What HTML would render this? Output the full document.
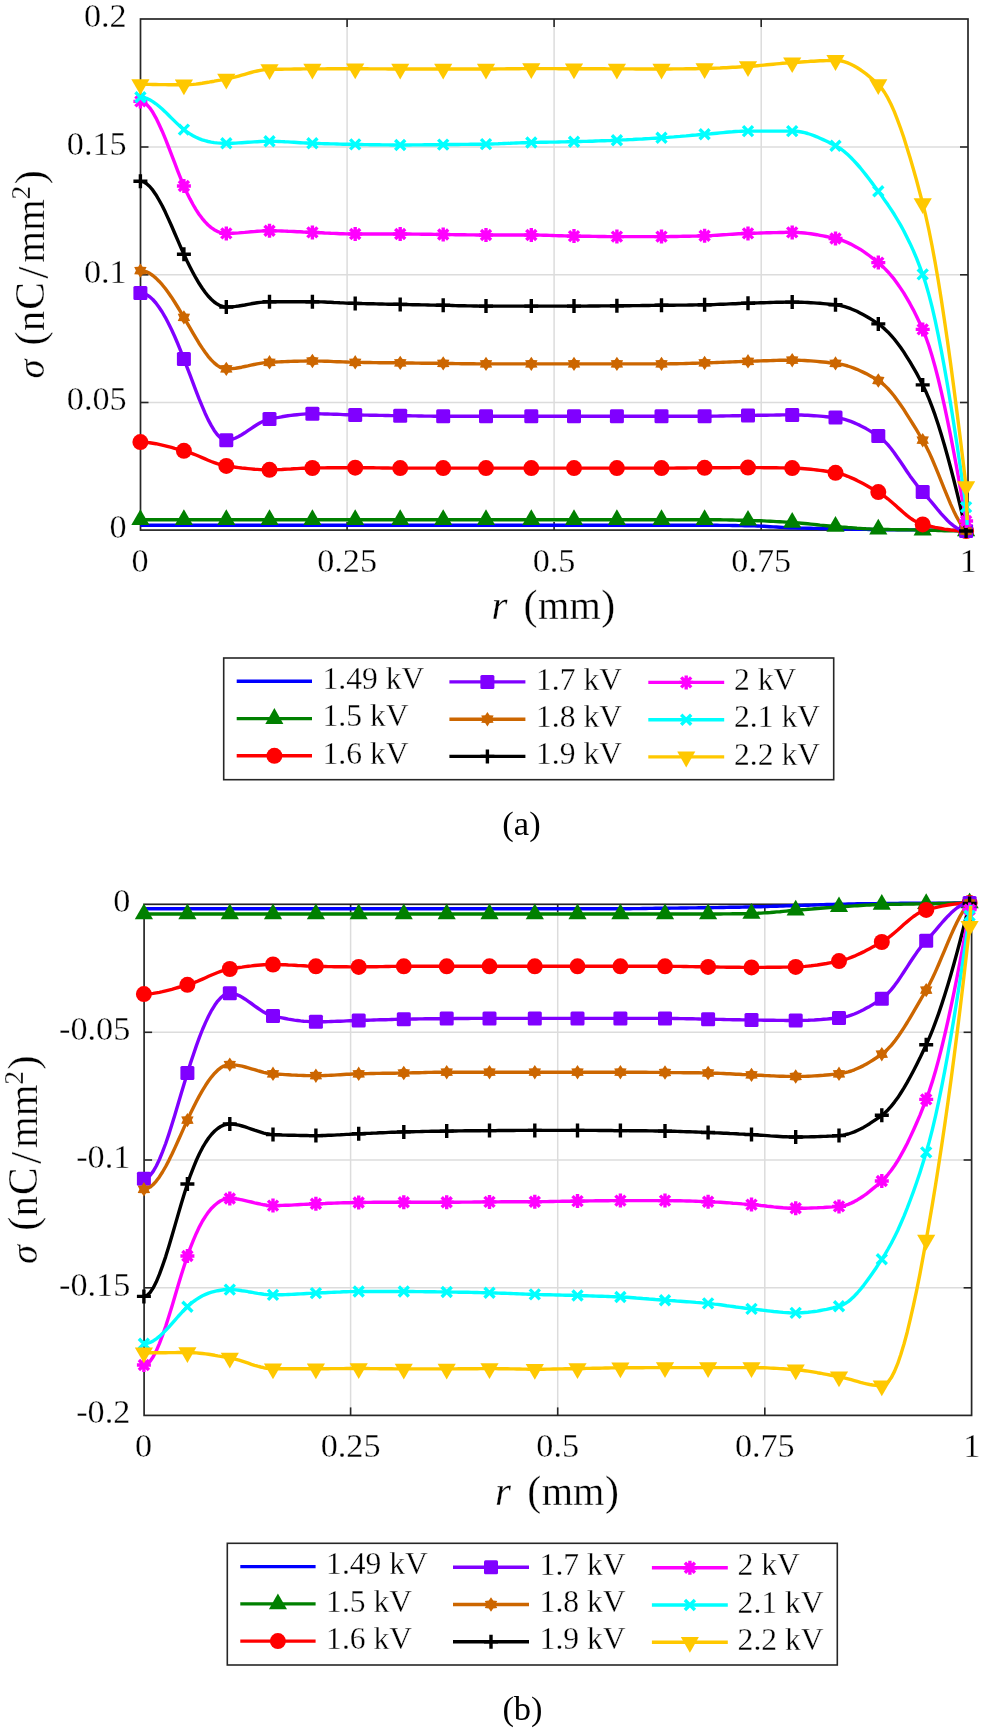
<!DOCTYPE html>
<html><head><meta charset="utf-8"><style>
html,body{margin:0;padding:0;background:#fff;width:984px;height:1732px;overflow:hidden}
svg{display:block;will-change:transform}
text{font-family:"Liberation Serif",serif;fill:#000;stroke:#fff;stroke-width:0.3px;paint-order:fill stroke}
</style></head><body>
<svg width="984" height="1732" viewBox="0 0 984 1732">
<defs><clipPath id="c1"><rect x="128" y="7.2" width="852.2" height="535"/></clipPath><clipPath id="c2"><rect x="131.6" y="892.5" width="852.2" height="535"/></clipPath></defs>
<line x1="347.1" y1="19.2" x2="347.1" y2="530.2" stroke="#dcdcdc" stroke-width="1.5"/>
<line x1="554.1" y1="19.2" x2="554.1" y2="530.2" stroke="#dcdcdc" stroke-width="1.5"/>
<line x1="761.2" y1="19.2" x2="761.2" y2="530.2" stroke="#dcdcdc" stroke-width="1.5"/>
<line x1="140" y1="147" x2="968.2" y2="147" stroke="#dcdcdc" stroke-width="1.5"/>
<line x1="140" y1="274.8" x2="968.2" y2="274.8" stroke="#dcdcdc" stroke-width="1.5"/>
<line x1="140" y1="402.5" x2="968.2" y2="402.5" stroke="#dcdcdc" stroke-width="1.5"/>
<rect x="140.5" y="19" width="827.5" height="511.1" fill="none" stroke="#262626" stroke-width="1.7"/>
<line x1="347.1" y1="19" x2="347.1" y2="27" stroke="#262626" stroke-width="1.6"/>
<line x1="347.1" y1="530.1" x2="347.1" y2="522.1" stroke="#262626" stroke-width="1.6"/>
<line x1="554.1" y1="19" x2="554.1" y2="27" stroke="#262626" stroke-width="1.6"/>
<line x1="554.1" y1="530.1" x2="554.1" y2="522.1" stroke="#262626" stroke-width="1.6"/>
<line x1="761.2" y1="19" x2="761.2" y2="27" stroke="#262626" stroke-width="1.6"/>
<line x1="761.2" y1="530.1" x2="761.2" y2="522.1" stroke="#262626" stroke-width="1.6"/>
<line x1="140.5" y1="147" x2="148.5" y2="147" stroke="#262626" stroke-width="1.6"/>
<line x1="968" y1="147" x2="960" y2="147" stroke="#262626" stroke-width="1.6"/>
<line x1="140.5" y1="274.8" x2="148.5" y2="274.8" stroke="#262626" stroke-width="1.6"/>
<line x1="968" y1="274.8" x2="960" y2="274.8" stroke="#262626" stroke-width="1.6"/>
<line x1="140.5" y1="402.5" x2="148.5" y2="402.5" stroke="#262626" stroke-width="1.6"/>
<line x1="968" y1="402.5" x2="960" y2="402.5" stroke="#262626" stroke-width="1.6"/>
<g clip-path="url(#c1)">
<path d="M140.4 525.3 L143.5 525.3 L146.6 525.3 L149.7 525.3 L152.8 525.3 L155.9 525.3 L159 525.3 L162.2 525.3 L165.3 525.3 L168.4 525.3 L171.5 525.3 L174.6 525.3 L177.7 525.3 L180.8 525.3 L183.9 525.3 L186.9 525.3 L190 525.3 L193 525.3 L196 525.3 L199 525.3 L202.1 525.3 L205.1 525.3 L208.1 525.3 L211.2 525.3 L214.2 525.3 L217.2 525.3 L220.2 525.3 L223.3 525.3 L226.3 525.3 L229.4 525.3 L232.5 525.3 L235.6 525.3 L238.6 525.3 L241.7 525.3 L244.8 525.3 L247.9 525.3 L251 525.3 L254.1 525.3 L257.2 525.3 L260.2 525.3 L263.3 525.3 L266.4 525.3 L269.5 525.3 L272.6 525.3 L275.6 525.3 L278.7 525.3 L281.8 525.3 L284.8 525.3 L287.9 525.3 L290.9 525.3 L294 525.3 L297.1 525.3 L300.1 525.3 L303.2 525.3 L306.3 525.3 L309.3 525.3 L312.4 525.3 L315.5 525.3 L318.5 525.3 L321.6 525.3 L324.6 525.3 L327.7 525.3 L330.7 525.3 L333.8 525.3 L336.9 525.3 L339.9 525.3 L343 525.3 L346 525.3 L349.1 525.3 L352.1 525.3 L355.2 525.3 L358.2 525.3 L361.2 525.3 L364.2 525.3 L367.2 525.3 L370.2 525.3 L373.2 525.3 L376.2 525.3 L379.2 525.3 L382.2 525.3 L385.2 525.3 L388.2 525.3 L391.2 525.3 L394.2 525.3 L397.2 525.3 L400.2 525.3 L403.3 525.3 L406.4 525.3 L409.5 525.3 L412.5 525.3 L415.6 525.3 L418.7 525.3 L421.7 525.3 L424.8 525.3 L427.9 525.3 L430.9 525.3 L434 525.3 L437.1 525.3 L440.1 525.3 L443.2 525.3 L446.3 525.3 L449.3 525.3 L452.4 525.3 L455.4 525.3 L458.5 525.3 L461.5 525.3 L464.6 525.3 L467.7 525.3 L470.7 525.3 L473.8 525.3 L476.8 525.3 L479.9 525.3 L482.9 525.3 L486 525.3 L489 525.3 L492 525.3 L495.1 525.3 L498.1 525.3 L501.1 525.3 L504.1 525.3 L507.1 525.3 L510.2 525.3 L513.2 525.3 L516.2 525.3 L519.2 525.3 L522.2 525.3 L525.3 525.3 L528.3 525.3 L531.3 525.3 L534.3 525.3 L537.4 525.3 L540.4 525.3 L543.5 525.3 L546.5 525.3 L549.6 525.3 L552.6 525.3 L555.7 525.3 L558.8 525.3 L561.8 525.3 L564.9 525.3 L567.9 525.3 L571 525.3 L574 525.3 L577.1 525.3 L580.1 525.3 L583.2 525.3 L586.3 525.3 L589.3 525.3 L592.4 525.3 L595.5 525.3 L598.5 525.3 L601.6 525.3 L604.6 525.3 L607.7 525.3 L610.8 525.3 L613.8 525.3 L616.9 525.3 L620.1 525.3 L623.3 525.3 L626.5 525.3 L629.6 525.3 L632.8 525.3 L636 525.3 L639.2 525.3 L642.4 525.3 L645.6 525.3 L648.8 525.3 L651.9 525.3 L655.1 525.3 L658.3 525.3 L661.5 525.3 L664.6 525.3 L667.7 525.3 L670.7 525.3 L673.8 525.3 L676.9 525.3 L680 525.3 L683 525.3 L686.1 525.3 L689.2 525.3 L692.3 525.3 L695.4 525.3 L698.4 525.3 L701.5 525.3 L704.6 525.3 L707.7 525.3 L710.8 525.3 L713.9 525.3 L717 525.3 L720.1 525.4 L723.2 525.4 L726.3 525.4 L729.4 525.4 L732.5 525.5 L735.6 525.5 L738.7 525.6 L741.8 525.6 L744.9 525.7 L748 525.7 L751.2 525.8 L754.3 525.9 L757.5 526 L760.6 526.1 L763.8 526.3 L766.9 526.5 L770.1 526.7 L773.3 526.9 L776.4 527 L779.6 527.2 L782.7 527.4 L785.9 527.6 L789 527.7 L792.2 527.8 L795.3 527.9 L798.4 528 L801.5 528.1 L804.6 528.1 L807.7 528.2 L810.8 528.3 L813.9 528.4 L816.9 528.4 L820 528.5 L823.1 528.5 L826.2 528.6 L829.3 528.7 L832.4 528.7 L835.5 528.8 L838.6 528.9 L841.6 528.9 L844.7 529 L847.7 529.1 L850.8 529.1 L853.8 529.2 L856.9 529.2 L860 529.3 L863 529.4 L866.1 529.4 L869.1 529.5 L872.2 529.5 L875.2 529.6 L878.3 529.6 L881.5 529.6 L884.6 529.7 L887.8 529.7 L891 529.7 L894.2 529.8 L897.3 529.8 L900.5 529.8 L903.7 529.8 L906.8 529.9 L910 529.9 L913.2 529.9 L916.4 529.9 L919.5 530 L922.7 530 L925.8 530 L928.9 530.1 L932 530.1 L935.1 530.2 L938.2 530.2 L941.3 530.3 L944.4 530.3 L947.5 530.3 L950.6 530.4 L953.7 530.4 L956.8 530.5 L959.9 530.5 L963 530.5 L966.1 530.5" stroke="#0000ff" stroke-width="3.4" fill="none" stroke-linejoin="round"/>




















<path d="M140.4 519.7 L143.5 519.7 L146.6 519.7 L149.7 519.7 L152.8 519.7 L155.9 519.7 L159 519.7 L162.2 519.7 L165.3 519.7 L168.4 519.7 L171.5 519.7 L174.6 519.7 L177.7 519.7 L180.8 519.7 L183.9 519.7 L186.9 519.7 L190 519.7 L193 519.7 L196 519.7 L199 519.7 L202.1 519.7 L205.1 519.7 L208.1 519.7 L211.2 519.7 L214.2 519.7 L217.2 519.7 L220.2 519.7 L223.3 519.7 L226.3 519.7 L229.4 519.7 L232.5 519.7 L235.6 519.7 L238.6 519.7 L241.7 519.7 L244.8 519.7 L247.9 519.7 L251 519.7 L254.1 519.7 L257.2 519.7 L260.2 519.7 L263.3 519.7 L266.4 519.7 L269.5 519.7 L272.6 519.7 L275.6 519.7 L278.7 519.7 L281.8 519.7 L284.8 519.7 L287.9 519.7 L290.9 519.7 L294 519.7 L297.1 519.7 L300.1 519.7 L303.2 519.7 L306.3 519.7 L309.3 519.7 L312.4 519.7 L315.5 519.7 L318.5 519.7 L321.6 519.7 L324.6 519.7 L327.7 519.7 L330.7 519.7 L333.8 519.7 L336.9 519.7 L339.9 519.7 L343 519.7 L346 519.7 L349.1 519.7 L352.1 519.7 L355.2 519.7 L358.2 519.7 L361.2 519.7 L364.2 519.7 L367.2 519.7 L370.2 519.7 L373.2 519.7 L376.2 519.7 L379.2 519.7 L382.2 519.7 L385.2 519.7 L388.2 519.7 L391.2 519.7 L394.2 519.7 L397.2 519.7 L400.2 519.7 L403.3 519.7 L406.4 519.7 L409.5 519.7 L412.5 519.7 L415.6 519.7 L418.7 519.7 L421.7 519.7 L424.8 519.7 L427.9 519.7 L430.9 519.7 L434 519.7 L437.1 519.7 L440.1 519.7 L443.2 519.7 L446.3 519.7 L449.3 519.7 L452.4 519.7 L455.4 519.7 L458.5 519.7 L461.5 519.7 L464.6 519.7 L467.7 519.7 L470.7 519.7 L473.8 519.7 L476.8 519.7 L479.9 519.7 L482.9 519.7 L486 519.7 L489 519.7 L492 519.7 L495.1 519.7 L498.1 519.7 L501.1 519.7 L504.1 519.7 L507.1 519.7 L510.2 519.7 L513.2 519.7 L516.2 519.7 L519.2 519.7 L522.2 519.7 L525.3 519.7 L528.3 519.7 L531.3 519.7 L534.3 519.7 L537.4 519.7 L540.4 519.7 L543.5 519.7 L546.5 519.7 L549.6 519.7 L552.6 519.7 L555.7 519.7 L558.8 519.7 L561.8 519.7 L564.9 519.7 L567.9 519.7 L571 519.7 L574 519.7 L577.1 519.7 L580.1 519.7 L583.2 519.7 L586.3 519.7 L589.3 519.7 L592.4 519.7 L595.5 519.7 L598.5 519.7 L601.6 519.7 L604.6 519.7 L607.7 519.7 L610.8 519.7 L613.8 519.7 L616.9 519.7 L620.1 519.7 L623.3 519.7 L626.5 519.7 L629.6 519.7 L632.8 519.7 L636 519.7 L639.2 519.7 L642.4 519.7 L645.6 519.7 L648.8 519.7 L651.9 519.7 L655.1 519.7 L658.3 519.7 L661.5 519.7 L664.6 519.7 L667.7 519.7 L670.7 519.7 L673.8 519.7 L676.9 519.7 L680 519.7 L683 519.7 L686.1 519.7 L689.2 519.7 L692.3 519.7 L695.4 519.7 L698.4 519.7 L701.5 519.7 L704.6 519.7 L707.7 519.7 L710.8 519.7 L713.9 519.7 L717 519.8 L720.1 519.8 L723.2 519.9 L726.3 519.9 L729.4 520 L732.5 520 L735.6 520.1 L738.7 520.2 L741.8 520.3 L744.9 520.3 L748 520.4 L751.2 520.5 L754.3 520.6 L757.5 520.7 L760.6 520.8 L763.8 520.9 L766.9 521.1 L770.1 521.2 L773.3 521.4 L776.4 521.6 L779.6 521.7 L782.7 521.9 L785.9 522.1 L789 522.3 L792.2 522.5 L795.3 522.7 L798.4 522.9 L801.5 523.2 L804.6 523.5 L807.7 523.8 L810.8 524.1 L813.9 524.4 L816.9 524.7 L820 525.1 L823.1 525.4 L826.2 525.7 L829.3 526 L832.4 526.3 L835.5 526.5 L838.6 526.7 L841.6 527 L844.7 527.2 L847.7 527.5 L850.8 527.7 L853.8 527.9 L856.9 528.2 L860 528.4 L863 528.6 L866.1 528.8 L869.1 528.9 L872.2 529.1 L875.2 529.2 L878.3 529.3 L881.5 529.4 L884.6 529.5 L887.8 529.5 L891 529.6 L894.2 529.6 L897.3 529.7 L900.5 529.8 L903.7 529.8 L906.8 529.8 L910 529.9 L913.2 529.9 L916.4 530 L919.5 530 L922.7 530.1 L925.8 530.2 L928.9 530.2 L932 530.3 L935.1 530.4 L938.2 530.5 L941.3 530.6 L944.4 530.7 L947.5 530.7 L950.6 530.8 L953.7 530.9 L956.8 530.9 L959.9 531 L963 531 L966.1 531" stroke="#008000" stroke-width="3.4" fill="none" stroke-linejoin="round"/>
<polygon points="140.4,509.2 149.5,525 131.3,525" fill="#008000"/>
<polygon points="183.9,509.2 193,525 174.8,525" fill="#008000"/>
<polygon points="226.3,509.2 235.4,525 217.2,525" fill="#008000"/>
<polygon points="269.5,509.2 278.6,525 260.4,525" fill="#008000"/>
<polygon points="312.4,509.2 321.5,525 303.3,525" fill="#008000"/>
<polygon points="355.2,509.2 364.3,525 346.1,525" fill="#008000"/>
<polygon points="400.2,509.2 409.3,525 391.2,525" fill="#008000"/>
<polygon points="443.2,509.2 452.3,525 434.1,525" fill="#008000"/>
<polygon points="486,509.2 495.1,525 476.9,525" fill="#008000"/>
<polygon points="531.3,509.2 540.4,525 522.2,525" fill="#008000"/>
<polygon points="574,509.2 583.1,525 564.9,525" fill="#008000"/>
<polygon points="616.9,509.2 626,525 607.8,525" fill="#008000"/>
<polygon points="661.5,509.2 670.6,525 652.4,525" fill="#008000"/>
<polygon points="704.6,509.2 713.7,525 695.5,525" fill="#008000"/>
<polygon points="748,509.9 757.1,525.6 738.9,525.6" fill="#008000"/>
<polygon points="792.2,512 801.3,527.8 783.1,527.8" fill="#008000"/>
<polygon points="835.5,516 844.6,531.8 826.4,531.8" fill="#008000"/>
<polygon points="878.3,518.8 887.4,534.5 869.2,534.5" fill="#008000"/>
<polygon points="922.7,519.6 931.8,535.4 913.6,535.4" fill="#008000"/>
<polygon points="966.1,520.5 975.2,536.2 957,536.2" fill="#008000"/>
<path d="M140.4 442.1 L143.5 442.2 L146.6 442.4 L149.7 442.7 L152.8 443.2 L155.9 443.7 L159 444.4 L162.2 445.1 L165.3 445.8 L168.4 446.6 L171.5 447.4 L174.6 448.3 L177.7 449.1 L180.8 450 L183.9 450.8 L186.9 451.7 L190 452.7 L193 453.8 L196 455 L199 456.3 L202.1 457.6 L205.1 458.9 L208.1 460.2 L211.2 461.5 L214.2 462.6 L217.2 463.7 L220.2 464.6 L223.3 465.4 L226.3 465.9 L229.4 466.3 L232.5 466.8 L235.6 467.2 L238.6 467.6 L241.7 468 L244.8 468.3 L247.9 468.6 L251 468.9 L254.1 469.2 L257.2 469.4 L260.2 469.6 L263.3 469.7 L266.4 469.8 L269.5 469.8 L272.6 469.8 L275.6 469.7 L278.7 469.6 L281.8 469.5 L284.8 469.3 L287.9 469.1 L290.9 469 L294 468.8 L297.1 468.6 L300.1 468.4 L303.2 468.3 L306.3 468.2 L309.3 468.1 L312.4 468 L315.5 468 L318.5 467.9 L321.6 467.9 L324.6 467.9 L327.7 467.8 L330.7 467.8 L333.8 467.8 L336.9 467.8 L339.9 467.7 L343 467.7 L346 467.7 L349.1 467.7 L352.1 467.7 L355.2 467.7 L358.2 467.7 L361.2 467.7 L364.2 467.7 L367.2 467.8 L370.2 467.8 L373.2 467.8 L376.2 467.9 L379.2 467.9 L382.2 468 L385.2 468 L388.2 468 L391.2 468.1 L394.2 468.1 L397.2 468.1 L400.2 468.1 L403.3 468.1 L406.4 468.1 L409.5 468.1 L412.5 468.1 L415.6 468.1 L418.7 468.1 L421.7 468.1 L424.8 468.1 L427.9 468.1 L430.9 468.1 L434 468.1 L437.1 468.1 L440.1 468.1 L443.2 468.1 L446.3 468.1 L449.3 468.1 L452.4 468.1 L455.4 468.1 L458.5 468.1 L461.5 468.1 L464.6 468.1 L467.7 468.1 L470.7 468.1 L473.8 468.1 L476.8 468.1 L479.9 468.1 L482.9 468.1 L486 468.1 L489 468.1 L492 468.1 L495.1 468.1 L498.1 468.1 L501.1 468.1 L504.1 468.1 L507.1 468.1 L510.2 468.1 L513.2 468.1 L516.2 468.1 L519.2 468.1 L522.2 468.1 L525.3 468.1 L528.3 468.1 L531.3 468.1 L534.3 468.1 L537.4 468.1 L540.4 468.1 L543.5 468.1 L546.5 468.1 L549.6 468.1 L552.6 468.1 L555.7 468.1 L558.8 468.1 L561.8 468.1 L564.9 468.1 L567.9 468.1 L571 468.1 L574 468.1 L577.1 468.1 L580.1 468.1 L583.2 468.1 L586.3 468.1 L589.3 468.1 L592.4 468.1 L595.5 468.1 L598.5 468.1 L601.6 468.1 L604.6 468.1 L607.7 468.1 L610.8 468.1 L613.8 468.1 L616.9 468.1 L620.1 468.1 L623.3 468.1 L626.5 468.1 L629.6 468.1 L632.8 468.1 L636 468.1 L639.2 468.1 L642.4 468.1 L645.6 468.1 L648.8 468.1 L651.9 468.1 L655.1 468.1 L658.3 468.1 L661.5 468.1 L664.6 468.1 L667.7 468.1 L670.7 468.1 L673.8 468.1 L676.9 468 L680 468 L683 468 L686.1 468 L689.2 467.9 L692.3 467.9 L695.4 467.9 L698.4 467.8 L701.5 467.8 L704.6 467.8 L707.7 467.8 L710.8 467.8 L713.9 467.7 L717 467.7 L720.1 467.7 L723.2 467.7 L726.3 467.7 L729.4 467.7 L732.5 467.6 L735.6 467.6 L738.7 467.6 L741.8 467.6 L744.9 467.6 L748 467.6 L751.2 467.6 L754.3 467.6 L757.5 467.6 L760.6 467.6 L763.8 467.7 L766.9 467.7 L770.1 467.7 L773.3 467.8 L776.4 467.8 L779.6 467.9 L782.7 467.9 L785.9 468 L789 468 L792.2 468.1 L795.3 468.2 L798.4 468.3 L801.5 468.5 L804.6 468.7 L807.7 469 L810.8 469.3 L813.9 469.6 L816.9 470 L820 470.4 L823.1 470.8 L826.2 471.3 L829.3 471.8 L832.4 472.3 L835.5 472.8 L838.6 473.4 L841.6 474.2 L844.7 475.2 L847.7 476.3 L850.8 477.6 L853.8 478.9 L856.9 480.4 L860 482 L863 483.6 L866.1 485.2 L869.1 486.9 L872.2 488.7 L875.2 490.4 L878.3 492.1 L881.5 494 L884.6 496.3 L887.8 498.8 L891 501.5 L894.2 504.2 L897.3 507.1 L900.5 509.9 L903.7 512.7 L906.8 515.4 L910 517.8 L913.2 520 L916.4 521.9 L919.5 523.4 L922.7 524.4 L925.8 525.2 L928.9 525.9 L932 526.6 L935.1 527.3 L938.2 527.9 L941.3 528.5 L944.4 529.1 L947.5 529.5 L950.6 530 L953.7 530.3 L956.8 530.6 L959.9 530.8 L963 531 L966.1 531" stroke="#ff0000" stroke-width="3.4" fill="none" stroke-linejoin="round"/>
<circle cx="140.4" cy="442.1" r="8" fill="#ff0000"/>
<circle cx="183.9" cy="450.8" r="8" fill="#ff0000"/>
<circle cx="226.3" cy="465.9" r="8" fill="#ff0000"/>
<circle cx="269.5" cy="469.8" r="8" fill="#ff0000"/>
<circle cx="312.4" cy="468" r="8" fill="#ff0000"/>
<circle cx="355.2" cy="467.7" r="8" fill="#ff0000"/>
<circle cx="400.2" cy="468.1" r="8" fill="#ff0000"/>
<circle cx="443.2" cy="468.1" r="8" fill="#ff0000"/>
<circle cx="486" cy="468.1" r="8" fill="#ff0000"/>
<circle cx="531.3" cy="468.1" r="8" fill="#ff0000"/>
<circle cx="574" cy="468.1" r="8" fill="#ff0000"/>
<circle cx="616.9" cy="468.1" r="8" fill="#ff0000"/>
<circle cx="661.5" cy="468.1" r="8" fill="#ff0000"/>
<circle cx="704.6" cy="467.8" r="8" fill="#ff0000"/>
<circle cx="748" cy="467.6" r="8" fill="#ff0000"/>
<circle cx="792.2" cy="468.1" r="8" fill="#ff0000"/>
<circle cx="835.5" cy="472.8" r="8" fill="#ff0000"/>
<circle cx="878.3" cy="492.1" r="8" fill="#ff0000"/>
<circle cx="922.7" cy="524.4" r="8" fill="#ff0000"/>
<circle cx="966.1" cy="531" r="8" fill="#ff0000"/>
<path d="M140.4 293 L143.5 293.4 L146.6 294.7 L149.7 296.7 L152.8 299.5 L155.9 303 L159 307.2 L162.2 312 L165.3 317.3 L168.4 323.2 L171.5 329.5 L174.6 336.3 L177.7 343.5 L180.8 351.1 L183.9 358.9 L186.9 366.8 L190 374.8 L193 382.9 L196 390.9 L199 398.7 L202.1 406.2 L205.1 413.2 L208.1 419.6 L211.2 425.4 L214.2 430.4 L217.2 434.5 L220.2 437.6 L223.3 439.5 L226.3 440.2 L229.4 439.9 L232.5 439.2 L235.6 438 L238.6 436.5 L241.7 434.7 L244.8 432.8 L247.9 430.7 L251 428.6 L254.1 426.5 L257.2 424.5 L260.2 422.7 L263.3 421.2 L266.4 419.9 L269.5 419.1 L272.6 418.5 L275.6 417.9 L278.7 417.4 L281.8 416.8 L284.8 416.3 L287.9 415.8 L290.9 415.4 L294 415 L297.1 414.7 L300.1 414.4 L303.2 414.1 L306.3 413.9 L309.3 413.8 L312.4 413.8 L315.5 413.8 L318.5 413.8 L321.6 413.9 L324.6 414 L327.7 414 L330.7 414.1 L333.8 414.2 L336.9 414.3 L339.9 414.4 L343 414.6 L346 414.7 L349.1 414.7 L352.1 414.8 L355.2 414.9 L358.2 415 L361.2 415 L364.2 415.1 L367.2 415.1 L370.2 415.2 L373.2 415.3 L376.2 415.3 L379.2 415.4 L382.2 415.4 L385.2 415.5 L388.2 415.5 L391.2 415.6 L394.2 415.6 L397.2 415.7 L400.2 415.7 L403.3 415.7 L406.4 415.8 L409.5 415.8 L412.5 415.9 L415.6 415.9 L418.7 416 L421.7 416 L424.8 416.1 L427.9 416.1 L430.9 416.1 L434 416.2 L437.1 416.2 L440.1 416.2 L443.2 416.2 L446.3 416.2 L449.3 416.2 L452.4 416.2 L455.4 416.2 L458.5 416.2 L461.5 416.2 L464.6 416.2 L467.7 416.2 L470.7 416.2 L473.8 416.2 L476.8 416.2 L479.9 416.2 L482.9 416.2 L486 416.2 L489 416.2 L492 416.2 L495.1 416.2 L498.1 416.2 L501.1 416.2 L504.1 416.2 L507.1 416.2 L510.2 416.2 L513.2 416.2 L516.2 416.2 L519.2 416.2 L522.2 416.2 L525.3 416.2 L528.3 416.2 L531.3 416.2 L534.3 416.2 L537.4 416.2 L540.4 416.2 L543.5 416.2 L546.5 416.2 L549.6 416.2 L552.6 416.2 L555.7 416.2 L558.8 416.2 L561.8 416.2 L564.9 416.2 L567.9 416.2 L571 416.2 L574 416.2 L577.1 416.2 L580.1 416.2 L583.2 416.2 L586.3 416.2 L589.3 416.2 L592.4 416.2 L595.5 416.2 L598.5 416.2 L601.6 416.2 L604.6 416.2 L607.7 416.2 L610.8 416.2 L613.8 416.2 L616.9 416.2 L620.1 416.2 L623.3 416.2 L626.5 416.2 L629.6 416.2 L632.8 416.2 L636 416.2 L639.2 416.2 L642.4 416.2 L645.6 416.2 L648.8 416.2 L651.9 416.2 L655.1 416.2 L658.3 416.2 L661.5 416.2 L664.6 416.2 L667.7 416.2 L670.7 416.2 L673.8 416.2 L676.9 416.2 L680 416.2 L683 416.2 L686.1 416.2 L689.2 416.2 L692.3 416.2 L695.4 416.2 L698.4 416.2 L701.5 416.2 L704.6 416.2 L707.7 416.2 L710.8 416.2 L713.9 416.1 L717 416.1 L720.1 416 L723.2 416 L726.3 415.9 L729.4 415.9 L732.5 415.8 L735.6 415.7 L738.7 415.7 L741.8 415.6 L744.9 415.5 L748 415.5 L751.2 415.5 L754.3 415.4 L757.5 415.3 L760.6 415.3 L763.8 415.2 L766.9 415.2 L770.1 415.1 L773.3 415.1 L776.4 415 L779.6 415 L782.7 414.9 L785.9 414.9 L789 414.9 L792.2 414.9 L795.3 414.9 L798.4 415 L801.5 415 L804.6 415.2 L807.7 415.3 L810.8 415.5 L813.9 415.7 L816.9 415.9 L820 416.1 L823.1 416.4 L826.2 416.7 L829.3 417 L832.4 417.3 L835.5 417.6 L838.6 418 L841.6 418.6 L844.7 419.4 L847.7 420.3 L850.8 421.4 L853.8 422.6 L856.9 424 L860 425.4 L863 427 L866.1 428.6 L869.1 430.4 L872.2 432.2 L875.2 434.1 L878.3 436 L881.5 438.3 L884.6 441.3 L887.8 444.7 L891 448.5 L894.2 452.7 L897.3 457.2 L900.5 461.8 L903.7 466.5 L906.8 471.2 L910 475.9 L913.2 480.3 L916.4 484.6 L919.5 488.6 L922.7 492.1 L925.8 495.5 L928.9 499 L932 502.7 L935.1 506.4 L938.2 510.2 L941.3 513.8 L944.4 517.2 L947.5 520.5 L950.6 523.4 L953.7 525.9 L956.8 528 L959.9 529.6 L963 530.6 L966.1 531" stroke="#8000ff" stroke-width="3.4" fill="none" stroke-linejoin="round"/>
<rect x="133.4" y="286" width="14" height="14" rx="1.5" fill="#8000ff"/>
<rect x="176.9" y="351.9" width="14" height="14" rx="1.5" fill="#8000ff"/>
<rect x="219.3" y="433.2" width="14" height="14" rx="1.5" fill="#8000ff"/>
<rect x="262.5" y="412.1" width="14" height="14" rx="1.5" fill="#8000ff"/>
<rect x="305.4" y="406.8" width="14" height="14" rx="1.5" fill="#8000ff"/>
<rect x="348.2" y="407.9" width="14" height="14" rx="1.5" fill="#8000ff"/>
<rect x="393.2" y="408.7" width="14" height="14" rx="1.5" fill="#8000ff"/>
<rect x="436.2" y="409.2" width="14" height="14" rx="1.5" fill="#8000ff"/>
<rect x="479" y="409.2" width="14" height="14" rx="1.5" fill="#8000ff"/>
<rect x="524.3" y="409.2" width="14" height="14" rx="1.5" fill="#8000ff"/>
<rect x="567" y="409.2" width="14" height="14" rx="1.5" fill="#8000ff"/>
<rect x="609.9" y="409.2" width="14" height="14" rx="1.5" fill="#8000ff"/>
<rect x="654.5" y="409.2" width="14" height="14" rx="1.5" fill="#8000ff"/>
<rect x="697.6" y="409.2" width="14" height="14" rx="1.5" fill="#8000ff"/>
<rect x="741" y="408.5" width="14" height="14" rx="1.5" fill="#8000ff"/>
<rect x="785.2" y="407.9" width="14" height="14" rx="1.5" fill="#8000ff"/>
<rect x="828.5" y="410.6" width="14" height="14" rx="1.5" fill="#8000ff"/>
<rect x="871.3" y="429" width="14" height="14" rx="1.5" fill="#8000ff"/>
<rect x="915.7" y="485.1" width="14" height="14" rx="1.5" fill="#8000ff"/>
<rect x="959.1" y="524" width="14" height="14" rx="1.5" fill="#8000ff"/>
<path d="M140.4 270.6 L143.5 270.9 L146.6 271.9 L149.7 273.4 L152.8 275.5 L155.9 278.1 L159 281.2 L162.2 284.7 L165.3 288.5 L168.4 292.7 L171.5 297.2 L174.6 302 L177.7 307 L180.8 312.1 L183.9 317.4 L186.9 322.6 L190 327.9 L193 333.1 L196 338.2 L199 343.2 L202.1 347.9 L205.1 352.2 L208.1 356.3 L211.2 359.9 L214.2 362.9 L217.2 365.4 L220.2 367.3 L223.3 368.5 L226.3 368.9 L229.4 368.8 L232.5 368.6 L235.6 368.2 L238.6 367.7 L241.7 367.2 L244.8 366.5 L247.9 365.9 L251 365.2 L254.1 364.5 L257.2 363.9 L260.2 363.4 L263.3 362.9 L266.4 362.5 L269.5 362.3 L272.6 362.1 L275.6 362 L278.7 361.9 L281.8 361.7 L284.8 361.6 L287.9 361.5 L290.9 361.4 L294 361.3 L297.1 361.2 L300.1 361.1 L303.2 361.1 L306.3 361 L309.3 361 L312.4 361 L315.5 361 L318.5 361.1 L321.6 361.1 L324.6 361.2 L327.7 361.3 L330.7 361.4 L333.8 361.6 L336.9 361.7 L339.9 361.8 L343 361.9 L346 362 L349.1 362.1 L352.1 362.2 L355.2 362.3 L358.2 362.4 L361.2 362.4 L364.2 362.5 L367.2 362.5 L370.2 362.5 L373.2 362.6 L376.2 362.6 L379.2 362.7 L382.2 362.7 L385.2 362.7 L388.2 362.8 L391.2 362.8 L394.2 362.8 L397.2 362.9 L400.2 362.9 L403.3 362.9 L406.4 363 L409.5 363 L412.5 363 L415.6 363.1 L418.7 363.1 L421.7 363.2 L424.8 363.2 L427.9 363.2 L430.9 363.3 L434 363.3 L437.1 363.3 L440.1 363.4 L443.2 363.4 L446.3 363.4 L449.3 363.5 L452.4 363.5 L455.4 363.6 L458.5 363.6 L461.5 363.7 L464.6 363.7 L467.7 363.8 L470.7 363.8 L473.8 363.8 L476.8 363.9 L479.9 363.9 L482.9 363.9 L486 363.9 L489 363.9 L492 363.9 L495.1 363.9 L498.1 363.9 L501.1 363.9 L504.1 363.9 L507.1 363.9 L510.2 363.9 L513.2 363.9 L516.2 363.9 L519.2 363.9 L522.2 363.9 L525.3 363.9 L528.3 363.9 L531.3 363.9 L534.3 363.9 L537.4 363.9 L540.4 363.9 L543.5 363.9 L546.5 363.9 L549.6 363.9 L552.6 363.9 L555.7 363.9 L558.8 363.9 L561.8 363.9 L564.9 363.9 L567.9 363.9 L571 363.9 L574 363.9 L577.1 363.9 L580.1 363.9 L583.2 363.9 L586.3 363.9 L589.3 363.9 L592.4 363.9 L595.5 363.9 L598.5 363.9 L601.6 363.9 L604.6 363.9 L607.7 363.9 L610.8 363.9 L613.8 363.9 L616.9 363.9 L620.1 363.9 L623.3 363.9 L626.5 363.9 L629.6 363.9 L632.8 363.9 L636 363.9 L639.2 363.9 L642.4 363.9 L645.6 363.9 L648.8 363.9 L651.9 363.9 L655.1 363.9 L658.3 363.9 L661.5 363.9 L664.6 363.9 L667.7 363.9 L670.7 363.8 L673.8 363.8 L676.9 363.7 L680 363.6 L683 363.6 L686.1 363.5 L689.2 363.4 L692.3 363.3 L695.4 363.2 L698.4 363.1 L701.5 363 L704.6 362.9 L707.7 362.8 L710.8 362.7 L713.9 362.6 L717 362.5 L720.1 362.4 L723.2 362.2 L726.3 362.1 L729.4 362 L732.5 361.9 L735.6 361.7 L738.7 361.6 L741.8 361.5 L744.9 361.4 L748 361.3 L751.2 361.2 L754.3 361.1 L757.5 361 L760.6 360.9 L763.8 360.8 L766.9 360.7 L770.1 360.6 L773.3 360.5 L776.4 360.4 L779.6 360.3 L782.7 360.3 L785.9 360.2 L789 360.2 L792.2 360.2 L795.3 360.2 L798.4 360.3 L801.5 360.4 L804.6 360.5 L807.7 360.7 L810.8 360.9 L813.9 361.1 L816.9 361.4 L820 361.7 L823.1 362 L826.2 362.3 L829.3 362.7 L832.4 363 L835.5 363.4 L838.6 363.9 L841.6 364.4 L844.7 365.2 L847.7 366 L850.8 367 L853.8 368.1 L856.9 369.3 L860 370.7 L863 372.1 L866.1 373.6 L869.1 375.2 L872.2 376.9 L875.2 378.7 L878.3 380.5 L881.5 382.7 L884.6 385.4 L887.8 388.5 L891 392.1 L894.2 396 L897.3 400.2 L900.5 404.7 L903.7 409.4 L906.8 414.3 L910 419.3 L913.2 424.5 L916.4 429.7 L919.5 435 L922.7 440.2 L925.8 445.7 L928.9 451.9 L932 458.8 L935.1 466.1 L938.2 473.7 L941.3 481.4 L944.4 489.1 L947.5 496.7 L950.6 504.1 L953.7 510.9 L956.8 517.2 L959.9 522.7 L963 527.4 L966.1 531" stroke="#cc6600" stroke-width="3.4" fill="none" stroke-linejoin="round"/>
<polygon points="140.4,263.4 138.2,266.7 134.2,267 135.9,270.6 134.2,274.2 138.2,274.5 140.4,277.8 142.6,274.5 146.6,274.2 144.9,270.6 146.6,267 142.6,266.7" fill="#cc6600"/>
<polygon points="183.9,310.2 181.7,313.5 177.7,313.8 179.4,317.4 177.7,321 181.7,321.3 183.9,324.6 186.1,321.3 190.1,321 188.4,317.4 190.1,313.8 186.1,313.5" fill="#cc6600"/>
<polygon points="226.3,361.7 224.1,365 220.1,365.3 221.8,368.9 220.1,372.5 224.1,372.8 226.3,376.1 228.5,372.8 232.5,372.5 230.8,368.9 232.5,365.3 228.5,365" fill="#cc6600"/>
<polygon points="269.5,355.1 267.3,358.4 263.3,358.7 265,362.3 263.3,365.9 267.3,366.2 269.5,369.5 271.7,366.2 275.7,365.9 274,362.3 275.7,358.7 271.7,358.4" fill="#cc6600"/>
<polygon points="312.4,353.8 310.2,357.1 306.2,357.4 307.9,361 306.2,364.6 310.2,364.9 312.4,368.2 314.6,364.9 318.6,364.6 316.9,361 318.6,357.4 314.6,357.1" fill="#cc6600"/>
<polygon points="355.2,355.1 353,358.4 349,358.7 350.7,362.3 349,365.9 353,366.2 355.2,369.5 357.4,366.2 361.4,365.9 359.7,362.3 361.4,358.7 357.4,358.4" fill="#cc6600"/>
<polygon points="400.2,355.7 398,359 394,359.3 395.8,362.9 394,366.5 398,366.8 400.2,370.1 402.5,366.8 406.5,366.5 404.7,362.9 406.5,359.3 402.5,359" fill="#cc6600"/>
<polygon points="443.2,356.2 441,359.5 437,359.8 438.7,363.4 437,367 441,367.3 443.2,370.6 445.4,367.3 449.4,367 447.7,363.4 449.4,359.8 445.4,359.5" fill="#cc6600"/>
<polygon points="486,356.7 483.8,360 479.8,360.3 481.5,363.9 479.8,367.5 483.8,367.8 486,371.1 488.2,367.8 492.2,367.5 490.5,363.9 492.2,360.3 488.2,360" fill="#cc6600"/>
<polygon points="531.3,356.7 529.1,360 525.1,360.3 526.8,363.9 525.1,367.5 529.1,367.8 531.3,371.1 533.5,367.8 537.5,367.5 535.8,363.9 537.5,360.3 533.5,360" fill="#cc6600"/>
<polygon points="574,356.7 571.8,360 567.8,360.3 569.5,363.9 567.8,367.5 571.8,367.8 574,371.1 576.2,367.8 580.2,367.5 578.5,363.9 580.2,360.3 576.2,360" fill="#cc6600"/>
<polygon points="616.9,356.7 614.7,360 610.7,360.3 612.4,363.9 610.7,367.5 614.7,367.8 616.9,371.1 619.1,367.8 623.1,367.5 621.4,363.9 623.1,360.3 619.1,360" fill="#cc6600"/>
<polygon points="661.5,356.7 659.3,360 655.3,360.3 657,363.9 655.3,367.5 659.3,367.8 661.5,371.1 663.7,367.8 667.7,367.5 666,363.9 667.7,360.3 663.7,360" fill="#cc6600"/>
<polygon points="704.6,355.7 702.4,359 698.4,359.3 700.1,362.9 698.4,366.5 702.4,366.8 704.6,370.1 706.8,366.8 710.8,366.5 709.1,362.9 710.8,359.3 706.8,359" fill="#cc6600"/>
<polygon points="748,354.1 745.8,357.4 741.8,357.7 743.5,361.3 741.8,364.9 745.8,365.2 748,368.5 750.2,365.2 754.2,364.9 752.5,361.3 754.2,357.7 750.2,357.4" fill="#cc6600"/>
<polygon points="792.2,353 790,356.3 786,356.6 787.7,360.2 786,363.8 790,364.1 792.2,367.4 794.4,364.1 798.4,363.8 796.7,360.2 798.4,356.6 794.4,356.3" fill="#cc6600"/>
<polygon points="835.5,356.2 833.3,359.5 829.3,359.8 831,363.4 829.3,367 833.3,367.3 835.5,370.6 837.7,367.3 841.7,367 840,363.4 841.7,359.8 837.7,359.5" fill="#cc6600"/>
<polygon points="878.3,373.3 876.1,376.6 872.1,376.9 873.8,380.5 872.1,384.1 876.1,384.4 878.3,387.7 880.5,384.4 884.5,384.1 882.8,380.5 884.5,376.9 880.5,376.6" fill="#cc6600"/>
<polygon points="922.7,433 920.5,436.3 916.5,436.6 918.2,440.2 916.5,443.8 920.5,444.1 922.7,447.4 924.9,444.1 928.9,443.8 927.2,440.2 928.9,436.6 924.9,436.3" fill="#cc6600"/>
<polygon points="966.1,523.8 963.9,527.1 959.9,527.4 961.6,531 959.9,534.6 963.9,534.9 966.1,538.2 968.3,534.9 972.3,534.6 970.6,531 972.3,527.4 968.3,527.1" fill="#cc6600"/>
<path d="M140.4 181.3 L143.5 181.9 L146.6 183.7 L149.7 186.5 L152.8 190.2 L155.9 194.7 L159 200 L162.2 205.8 L165.3 212.1 L168.4 218.9 L171.5 225.8 L174.6 233 L177.7 240.1 L180.8 247.3 L183.9 254.2 L186.9 260.7 L190 266.9 L193 272.7 L196 278.2 L199 283.3 L202.1 288 L205.1 292.2 L208.1 296 L211.2 299.2 L214.2 302 L217.2 304.1 L220.2 305.7 L223.3 306.7 L226.3 307 L229.4 306.9 L232.5 306.7 L235.6 306.4 L238.6 306 L241.7 305.5 L244.8 305 L247.9 304.4 L251 303.8 L254.1 303.3 L257.2 302.8 L260.2 302.4 L263.3 302.1 L266.4 301.9 L269.5 301.8 L272.6 301.8 L275.6 301.8 L278.7 301.8 L281.8 301.8 L284.8 301.8 L287.9 301.8 L290.9 301.8 L294 301.8 L297.1 301.8 L300.1 301.8 L303.2 301.8 L306.3 301.8 L309.3 301.8 L312.4 301.8 L315.5 301.8 L318.5 301.9 L321.6 301.9 L324.6 302 L327.7 302.2 L330.7 302.3 L333.8 302.5 L336.9 302.6 L339.9 302.8 L343 302.9 L346 303.1 L349.1 303.2 L352.1 303.3 L355.2 303.4 L358.2 303.5 L361.2 303.6 L364.2 303.6 L367.2 303.7 L370.2 303.8 L373.2 303.8 L376.2 303.9 L379.2 304 L382.2 304 L385.2 304.1 L388.2 304.2 L391.2 304.2 L394.2 304.3 L397.2 304.3 L400.2 304.4 L403.3 304.5 L406.4 304.5 L409.5 304.6 L412.5 304.7 L415.6 304.7 L418.7 304.8 L421.7 304.9 L424.8 304.9 L427.9 305 L430.9 305.1 L434 305.1 L437.1 305.2 L440.1 305.2 L443.2 305.3 L446.3 305.4 L449.3 305.4 L452.4 305.5 L455.4 305.6 L458.5 305.7 L461.5 305.7 L464.6 305.8 L467.7 305.9 L470.7 305.9 L473.8 306 L476.8 306 L479.9 306.1 L482.9 306.1 L486 306.1 L489 306.1 L492 306.1 L495.1 306.1 L498.1 306.1 L501.1 306.1 L504.1 306.1 L507.1 306.1 L510.2 306.1 L513.2 306.1 L516.2 306.1 L519.2 306.1 L522.2 306.1 L525.3 306.1 L528.3 306.1 L531.3 306.1 L534.3 306.1 L537.4 306.1 L540.4 306.1 L543.5 306.1 L546.5 306.1 L549.6 306.1 L552.6 306.1 L555.7 306.1 L558.8 306.1 L561.8 306.1 L564.9 306.1 L567.9 306.1 L571 306.1 L574 306.1 L577.1 306.1 L580.1 306.1 L583.2 306.1 L586.3 306.1 L589.3 306 L592.4 306 L595.5 306 L598.5 306 L601.6 305.9 L604.6 305.9 L607.7 305.9 L610.8 305.9 L613.8 305.8 L616.9 305.8 L620.1 305.8 L623.3 305.7 L626.5 305.7 L629.6 305.7 L632.8 305.6 L636 305.6 L639.2 305.6 L642.4 305.5 L645.6 305.5 L648.8 305.5 L651.9 305.4 L655.1 305.4 L658.3 305.3 L661.5 305.3 L664.6 305.3 L667.7 305.2 L670.7 305.2 L673.8 305.2 L676.9 305.1 L680 305.1 L683 305.1 L686.1 305.1 L689.2 305 L692.3 305 L695.4 304.9 L698.4 304.9 L701.5 304.9 L704.6 304.8 L707.7 304.7 L710.8 304.7 L713.9 304.6 L717 304.4 L720.1 304.3 L723.2 304.2 L726.3 304.1 L729.4 303.9 L732.5 303.8 L735.6 303.7 L738.7 303.5 L741.8 303.4 L744.9 303.3 L748 303.2 L751.2 303.1 L754.3 303 L757.5 302.9 L760.6 302.8 L763.8 302.7 L766.9 302.6 L770.1 302.5 L773.3 302.4 L776.4 302.3 L779.6 302.2 L782.7 302.2 L785.9 302.1 L789 302.1 L792.2 302.1 L795.3 302.1 L798.4 302.2 L801.5 302.2 L804.6 302.4 L807.7 302.5 L810.8 302.7 L813.9 302.9 L816.9 303.1 L820 303.3 L823.1 303.6 L826.2 303.9 L829.3 304.2 L832.4 304.5 L835.5 304.8 L838.6 305.2 L841.6 305.8 L844.7 306.6 L847.7 307.6 L850.8 308.7 L853.8 310 L856.9 311.3 L860 312.9 L863 314.5 L866.1 316.2 L869.1 318 L872.2 319.9 L875.2 321.9 L878.3 323.9 L881.5 326.2 L884.6 328.9 L887.8 331.9 L891 335.3 L894.2 339 L897.3 343 L900.5 347.3 L903.7 351.9 L906.8 356.8 L910 361.9 L913.2 367.3 L916.4 372.9 L919.5 378.8 L922.7 384.9 L925.8 391.4 L928.9 398.6 L932 406.6 L935.1 415.2 L938.2 424.5 L941.3 434.5 L944.4 444.9 L947.5 456 L950.6 467.5 L953.7 479.5 L956.8 491.8 L959.9 504.6 L963 517.6 L966.1 531" stroke="#000000" stroke-width="3.4" fill="none" stroke-linejoin="round"/>
<path d="M133.4 181.3H147.4M140.4 174.3V188.3" stroke="#000000" stroke-width="3.4" fill="none"/>
<path d="M176.9 254.2H190.9M183.9 247.2V261.2" stroke="#000000" stroke-width="3.4" fill="none"/>
<path d="M219.3 307H233.3M226.3 300V314" stroke="#000000" stroke-width="3.4" fill="none"/>
<path d="M262.5 301.8H276.5M269.5 294.8V308.8" stroke="#000000" stroke-width="3.4" fill="none"/>
<path d="M305.4 301.8H319.4M312.4 294.8V308.8" stroke="#000000" stroke-width="3.4" fill="none"/>
<path d="M348.2 303.4H362.2M355.2 296.4V310.4" stroke="#000000" stroke-width="3.4" fill="none"/>
<path d="M393.2 304.4H407.2M400.2 297.4V311.4" stroke="#000000" stroke-width="3.4" fill="none"/>
<path d="M436.2 305.3H450.2M443.2 298.3V312.3" stroke="#000000" stroke-width="3.4" fill="none"/>
<path d="M479 306.1H493M486 299.1V313.1" stroke="#000000" stroke-width="3.4" fill="none"/>
<path d="M524.3 306.1H538.3M531.3 299.1V313.1" stroke="#000000" stroke-width="3.4" fill="none"/>
<path d="M567 306.1H581M574 299.1V313.1" stroke="#000000" stroke-width="3.4" fill="none"/>
<path d="M609.9 305.8H623.9M616.9 298.8V312.8" stroke="#000000" stroke-width="3.4" fill="none"/>
<path d="M654.5 305.3H668.5M661.5 298.3V312.3" stroke="#000000" stroke-width="3.4" fill="none"/>
<path d="M697.6 304.8H711.6M704.6 297.8V311.8" stroke="#000000" stroke-width="3.4" fill="none"/>
<path d="M741 303.2H755M748 296.2V310.2" stroke="#000000" stroke-width="3.4" fill="none"/>
<path d="M785.2 302.1H799.2M792.2 295.1V309.1" stroke="#000000" stroke-width="3.4" fill="none"/>
<path d="M828.5 304.8H842.5M835.5 297.8V311.8" stroke="#000000" stroke-width="3.4" fill="none"/>
<path d="M871.3 323.9H885.3M878.3 316.9V330.9" stroke="#000000" stroke-width="3.4" fill="none"/>
<path d="M915.7 384.9H929.7M922.7 377.9V391.9" stroke="#000000" stroke-width="3.4" fill="none"/>
<path d="M959.1 531H973.1M966.1 524V538" stroke="#000000" stroke-width="3.4" fill="none"/>
<path d="M140.4 101.4 L143.5 102.2 L146.6 104.3 L149.7 107.8 L152.8 112.3 L155.9 117.8 L159 124.2 L162.2 131.2 L165.3 138.7 L168.4 146.5 L171.5 154.6 L174.6 162.7 L177.7 170.8 L180.8 178.6 L183.9 186 L186.9 192.7 L190 198.9 L193 204.5 L196 209.6 L199 214.2 L202.1 218.3 L205.1 221.9 L208.1 225 L211.2 227.6 L214.2 229.7 L217.2 231.3 L220.2 232.5 L223.3 233.2 L226.3 233.4 L229.4 233.4 L232.5 233.3 L235.6 233.1 L238.6 232.9 L241.7 232.6 L244.8 232.4 L247.9 232.1 L251 231.8 L254.1 231.6 L257.2 231.3 L260.2 231.1 L263.3 230.9 L266.4 230.8 L269.5 230.8 L272.6 230.8 L275.6 230.9 L278.7 230.9 L281.8 231 L284.8 231.1 L287.9 231.3 L290.9 231.4 L294 231.5 L297.1 231.7 L300.1 231.8 L303.2 232 L306.3 232.1 L309.3 232.3 L312.4 232.4 L315.5 232.5 L318.5 232.7 L321.6 232.8 L324.6 233 L327.7 233.1 L330.7 233.3 L333.8 233.4 L336.9 233.5 L339.9 233.7 L343 233.8 L346 233.9 L349.1 233.9 L352.1 234 L355.2 234 L358.2 234 L361.2 234 L364.2 234 L367.2 234 L370.2 234 L373.2 234 L376.2 234 L379.2 234 L382.2 234 L385.2 234 L388.2 234 L391.2 234 L394.2 234 L397.2 234 L400.2 234 L403.3 234 L406.4 234 L409.5 234 L412.5 234.1 L415.6 234.1 L418.7 234.1 L421.7 234.2 L424.8 234.2 L427.9 234.3 L430.9 234.3 L434 234.4 L437.1 234.4 L440.1 234.5 L443.2 234.5 L446.3 234.5 L449.3 234.6 L452.4 234.6 L455.4 234.7 L458.5 234.7 L461.5 234.8 L464.6 234.8 L467.7 234.9 L470.7 234.9 L473.8 234.9 L476.8 235 L479.9 235 L482.9 235 L486 235 L489 235 L492 235 L495.1 235 L498.1 235 L501.1 235 L504.1 235 L507.1 235 L510.2 235 L513.2 235 L516.2 235 L519.2 235 L522.2 235 L525.3 235 L528.3 235 L531.3 235 L534.3 235 L537.4 235 L540.4 235.1 L543.5 235.2 L546.5 235.3 L549.6 235.4 L552.6 235.5 L555.7 235.6 L558.8 235.7 L561.8 235.8 L564.9 235.9 L567.9 236 L571 236 L574 236.1 L577.1 236.1 L580.1 236.2 L583.2 236.3 L586.3 236.3 L589.3 236.3 L592.4 236.4 L595.5 236.4 L598.5 236.5 L601.6 236.5 L604.6 236.5 L607.7 236.6 L610.8 236.6 L613.8 236.6 L616.9 236.6 L620.1 236.6 L623.3 236.6 L626.5 236.6 L629.6 236.6 L632.8 236.6 L636 236.6 L639.2 236.6 L642.4 236.6 L645.6 236.6 L648.8 236.6 L651.9 236.6 L655.1 236.6 L658.3 236.6 L661.5 236.6 L664.6 236.6 L667.7 236.6 L670.7 236.5 L673.8 236.5 L676.9 236.5 L680 236.4 L683 236.3 L686.1 236.3 L689.2 236.2 L692.3 236.1 L695.4 236.1 L698.4 236 L701.5 235.9 L704.6 235.8 L707.7 235.7 L710.8 235.6 L713.9 235.4 L717 235.2 L720.1 235 L723.2 234.8 L726.3 234.6 L729.4 234.4 L732.5 234.2 L735.6 234 L738.7 233.8 L741.8 233.7 L744.9 233.5 L748 233.4 L751.2 233.3 L754.3 233.2 L757.5 233.1 L760.6 233 L763.8 232.9 L766.9 232.8 L770.1 232.7 L773.3 232.6 L776.4 232.6 L779.6 232.5 L782.7 232.5 L785.9 232.4 L789 232.4 L792.2 232.4 L795.3 232.4 L798.4 232.6 L801.5 232.8 L804.6 233 L807.7 233.4 L810.8 233.8 L813.9 234.2 L816.9 234.7 L820 235.3 L823.1 235.9 L826.2 236.5 L829.3 237.1 L832.4 237.8 L835.5 238.5 L838.6 239.3 L841.6 240.2 L844.7 241.4 L847.7 242.6 L850.8 244.1 L853.8 245.7 L856.9 247.4 L860 249.2 L863 251.2 L866.1 253.3 L869.1 255.5 L872.2 257.8 L875.2 260.1 L878.3 262.6 L881.5 265.3 L884.6 268.4 L887.8 271.7 L891 275.3 L894.2 279.2 L897.3 283.5 L900.5 288.1 L903.7 292.9 L906.8 298.2 L910 303.7 L913.2 309.6 L916.4 315.9 L919.5 322.4 L922.7 329.4 L925.8 337 L928.9 345.8 L932 355.8 L935.1 366.8 L938.2 378.8 L941.3 391.8 L944.4 405.6 L947.5 420.3 L950.6 435.6 L953.7 451.7 L956.8 468.3 L959.9 485.4 L963 503 L966.1 521 L967.2 527" stroke="#ff00ff" stroke-width="3.4" fill="none" stroke-linejoin="round"/>
<path d="M133.4 101.4H147.4M140.4 94.4V108.4M135.4 96.4L145.4 106.4M135.4 106.4L145.4 96.4" stroke="#ff00ff" stroke-width="3.4" fill="none"/>
<path d="M176.9 186H190.9M183.9 179V193M178.9 181L188.9 191M178.9 191L188.9 181" stroke="#ff00ff" stroke-width="3.4" fill="none"/>
<path d="M219.3 233.4H233.3M226.3 226.4V240.4M221.3 228.4L231.3 238.4M221.3 238.4L231.3 228.4" stroke="#ff00ff" stroke-width="3.4" fill="none"/>
<path d="M262.5 230.8H276.5M269.5 223.8V237.8M264.5 225.8L274.5 235.8M264.5 235.8L274.5 225.8" stroke="#ff00ff" stroke-width="3.4" fill="none"/>
<path d="M305.4 232.4H319.4M312.4 225.4V239.4M307.4 227.4L317.4 237.4M307.4 237.4L317.4 227.4" stroke="#ff00ff" stroke-width="3.4" fill="none"/>
<path d="M348.2 234H362.2M355.2 227V241M350.2 229L360.2 239M350.2 239L360.2 229" stroke="#ff00ff" stroke-width="3.4" fill="none"/>
<path d="M393.2 234H407.2M400.2 227V241M395.2 229L405.2 239M395.2 239L405.2 229" stroke="#ff00ff" stroke-width="3.4" fill="none"/>
<path d="M436.2 234.5H450.2M443.2 227.5V241.5M438.2 229.5L448.2 239.5M438.2 239.5L448.2 229.5" stroke="#ff00ff" stroke-width="3.4" fill="none"/>
<path d="M479 235H493M486 228V242M481 230L491 240M481 240L491 230" stroke="#ff00ff" stroke-width="3.4" fill="none"/>
<path d="M524.3 235H538.3M531.3 228V242M526.3 230L536.3 240M526.3 240L536.3 230" stroke="#ff00ff" stroke-width="3.4" fill="none"/>
<path d="M567 236.1H581M574 229.1V243.1M569 231.1L579 241.1M569 241.1L579 231.1" stroke="#ff00ff" stroke-width="3.4" fill="none"/>
<path d="M609.9 236.6H623.9M616.9 229.6V243.6M611.9 231.6L621.9 241.6M611.9 241.6L621.9 231.6" stroke="#ff00ff" stroke-width="3.4" fill="none"/>
<path d="M654.5 236.6H668.5M661.5 229.6V243.6M656.5 231.6L666.5 241.6M656.5 241.6L666.5 231.6" stroke="#ff00ff" stroke-width="3.4" fill="none"/>
<path d="M697.6 235.8H711.6M704.6 228.8V242.8M699.6 230.8L709.6 240.8M699.6 240.8L709.6 230.8" stroke="#ff00ff" stroke-width="3.4" fill="none"/>
<path d="M741 233.4H755M748 226.4V240.4M743 228.4L753 238.4M743 238.4L753 228.4" stroke="#ff00ff" stroke-width="3.4" fill="none"/>
<path d="M785.2 232.4H799.2M792.2 225.4V239.4M787.2 227.4L797.2 237.4M787.2 237.4L797.2 227.4" stroke="#ff00ff" stroke-width="3.4" fill="none"/>
<path d="M828.5 238.5H842.5M835.5 231.5V245.5M830.5 233.5L840.5 243.5M830.5 243.5L840.5 233.5" stroke="#ff00ff" stroke-width="3.4" fill="none"/>
<path d="M871.3 262.6H885.3M878.3 255.6V269.6M873.3 257.6L883.3 267.6M873.3 267.6L883.3 257.6" stroke="#ff00ff" stroke-width="3.4" fill="none"/>
<path d="M915.7 329.4H929.7M922.7 322.4V336.4M917.7 324.4L927.7 334.4M917.7 334.4L927.7 324.4" stroke="#ff00ff" stroke-width="3.4" fill="none"/>
<path d="M959.1 521H973.1M966.1 514V528M961.1 516L971.1 526M961.1 526L971.1 516" stroke="#ff00ff" stroke-width="3.4" fill="none"/>
<path d="M140.4 97.2 L143.5 97.5 L146.6 98.4 L149.7 99.8 L152.8 101.6 L155.9 103.8 L159 106.3 L162.2 109 L165.3 111.9 L168.4 115 L171.5 118.1 L174.6 121.1 L177.7 124.1 L180.8 127 L183.9 129.6 L186.9 131.9 L190 133.9 L193 135.7 L196 137.3 L199 138.6 L202.1 139.8 L205.1 140.7 L208.1 141.5 L211.2 142.1 L214.2 142.6 L217.2 142.9 L220.2 143.1 L223.3 143.3 L226.3 143.3 L229.4 143.3 L232.5 143.2 L235.6 143.1 L238.6 142.9 L241.7 142.7 L244.8 142.5 L247.9 142.3 L251 142.1 L254.1 141.9 L257.2 141.7 L260.2 141.5 L263.3 141.4 L266.4 141.3 L269.5 141.3 L272.6 141.3 L275.6 141.4 L278.7 141.5 L281.8 141.6 L284.8 141.8 L287.9 141.9 L290.9 142.1 L294 142.3 L297.1 142.5 L300.1 142.7 L303.2 142.9 L306.3 143 L309.3 143.2 L312.4 143.3 L315.5 143.4 L318.5 143.5 L321.6 143.6 L324.6 143.7 L327.7 143.8 L330.7 143.9 L333.8 143.9 L336.9 144 L339.9 144.1 L343 144.2 L346 144.2 L349.1 144.3 L352.1 144.3 L355.2 144.4 L358.2 144.5 L361.2 144.5 L364.2 144.6 L367.2 144.6 L370.2 144.7 L373.2 144.7 L376.2 144.8 L379.2 144.8 L382.2 144.9 L385.2 144.9 L388.2 144.9 L391.2 145 L394.2 145 L397.2 145 L400.2 145 L403.3 145 L406.4 145 L409.5 145 L412.5 144.9 L415.6 144.9 L418.7 144.9 L421.7 144.9 L424.8 144.8 L427.9 144.8 L430.9 144.7 L434 144.7 L437.1 144.7 L440.1 144.6 L443.2 144.6 L446.3 144.6 L449.3 144.5 L452.4 144.5 L455.4 144.5 L458.5 144.5 L461.5 144.4 L464.6 144.4 L467.7 144.4 L470.7 144.3 L473.8 144.3 L476.8 144.2 L479.9 144.2 L482.9 144.2 L486 144.1 L489 144 L492 144 L495.1 143.9 L498.1 143.8 L501.1 143.6 L504.1 143.5 L507.1 143.4 L510.2 143.3 L513.2 143.1 L516.2 143 L519.2 142.9 L522.2 142.8 L525.3 142.7 L528.3 142.6 L531.3 142.5 L534.3 142.4 L537.4 142.4 L540.4 142.3 L543.5 142.3 L546.5 142.2 L549.6 142.1 L552.6 142.1 L555.7 142.1 L558.8 142 L561.8 141.9 L564.9 141.9 L567.9 141.8 L571 141.8 L574 141.7 L577.1 141.6 L580.1 141.5 L583.2 141.4 L586.3 141.4 L589.3 141.3 L592.4 141.2 L595.5 141 L598.5 140.9 L601.6 140.8 L604.6 140.7 L607.7 140.6 L610.8 140.5 L613.8 140.3 L616.9 140.2 L620.1 140.1 L623.3 139.9 L626.5 139.8 L629.6 139.6 L632.8 139.5 L636 139.3 L639.2 139.1 L642.4 139 L645.6 138.8 L648.8 138.6 L651.9 138.4 L655.1 138.2 L658.3 138 L661.5 137.8 L664.6 137.6 L667.7 137.4 L670.7 137.1 L673.8 136.9 L676.9 136.6 L680 136.4 L683 136.1 L686.1 135.9 L689.2 135.6 L692.3 135.3 L695.4 135.1 L698.4 134.8 L701.5 134.5 L704.6 134.3 L707.7 134 L710.8 133.8 L713.9 133.5 L717 133.2 L720.1 132.9 L723.2 132.6 L726.3 132.3 L729.4 132 L732.5 131.8 L735.6 131.5 L738.7 131.4 L741.8 131.2 L744.9 131.1 L748 131.1 L751.2 131.1 L754.3 131.1 L757.5 131.1 L760.6 131.1 L763.8 131.1 L766.9 131.1 L770.1 131.1 L773.3 131.1 L776.4 131.1 L779.6 131.1 L782.7 131.1 L785.9 131.1 L789 131.1 L792.2 131.1 L795.3 131.2 L798.4 131.5 L801.5 132 L804.6 132.7 L807.7 133.5 L810.8 134.5 L813.9 135.6 L816.9 136.8 L820 138.2 L823.1 139.6 L826.2 141 L829.3 142.6 L832.4 144.1 L835.5 145.7 L838.6 147.4 L841.6 149.5 L844.7 151.9 L847.7 154.6 L850.8 157.5 L853.8 160.6 L856.9 164 L860 167.5 L863 171.2 L866.1 175.1 L869.1 179 L872.2 183.1 L875.2 187.2 L878.3 191.3 L881.5 195.6 L884.6 200.1 L887.8 204.6 L891 209.4 L894.2 214.3 L897.3 219.5 L900.5 224.9 L903.7 230.7 L906.8 236.9 L910 243.4 L913.2 250.4 L916.4 257.9 L919.5 265.9 L922.7 274.4 L925.8 283.8 L928.9 294.6 L932 306.7 L935.1 320.2 L938.2 334.8 L941.3 350.6 L944.4 367.4 L947.5 385.1 L950.6 403.8 L953.7 423.2 L956.8 443.3 L959.9 464 L963 485.3 L966.1 507.1 L967.2 525" stroke="#00ffff" stroke-width="3.4" fill="none" stroke-linejoin="round"/>
<path d="M135.4 92.2L145.4 102.2M135.4 102.2L145.4 92.2" stroke="#00ffff" stroke-width="3.4" fill="none"/>
<path d="M178.9 124.6L188.9 134.6M178.9 134.6L188.9 124.6" stroke="#00ffff" stroke-width="3.4" fill="none"/>
<path d="M221.3 138.3L231.3 148.3M221.3 148.3L231.3 138.3" stroke="#00ffff" stroke-width="3.4" fill="none"/>
<path d="M264.5 136.3L274.5 146.3M264.5 146.3L274.5 136.3" stroke="#00ffff" stroke-width="3.4" fill="none"/>
<path d="M307.4 138.3L317.4 148.3M307.4 148.3L317.4 138.3" stroke="#00ffff" stroke-width="3.4" fill="none"/>
<path d="M350.2 139.4L360.2 149.4M350.2 149.4L360.2 139.4" stroke="#00ffff" stroke-width="3.4" fill="none"/>
<path d="M395.2 140L405.2 150M395.2 150L405.2 140" stroke="#00ffff" stroke-width="3.4" fill="none"/>
<path d="M438.2 139.6L448.2 149.6M438.2 149.6L448.2 139.6" stroke="#00ffff" stroke-width="3.4" fill="none"/>
<path d="M481 139.1L491 149.1M481 149.1L491 139.1" stroke="#00ffff" stroke-width="3.4" fill="none"/>
<path d="M526.3 137.5L536.3 147.5M526.3 147.5L536.3 137.5" stroke="#00ffff" stroke-width="3.4" fill="none"/>
<path d="M569 136.7L579 146.7M569 146.7L579 136.7" stroke="#00ffff" stroke-width="3.4" fill="none"/>
<path d="M611.9 135.2L621.9 145.2M611.9 145.2L621.9 135.2" stroke="#00ffff" stroke-width="3.4" fill="none"/>
<path d="M656.5 132.8L666.5 142.8M656.5 142.8L666.5 132.8" stroke="#00ffff" stroke-width="3.4" fill="none"/>
<path d="M699.6 129.3L709.6 139.3M699.6 139.3L709.6 129.3" stroke="#00ffff" stroke-width="3.4" fill="none"/>
<path d="M743 126.1L753 136.1M743 136.1L753 126.1" stroke="#00ffff" stroke-width="3.4" fill="none"/>
<path d="M787.2 126.1L797.2 136.1M787.2 136.1L797.2 126.1" stroke="#00ffff" stroke-width="3.4" fill="none"/>
<path d="M830.5 140.7L840.5 150.7M830.5 150.7L840.5 140.7" stroke="#00ffff" stroke-width="3.4" fill="none"/>
<path d="M873.3 186.3L883.3 196.3M873.3 196.3L883.3 186.3" stroke="#00ffff" stroke-width="3.4" fill="none"/>
<path d="M917.7 269.4L927.7 279.4M917.7 279.4L927.7 269.4" stroke="#00ffff" stroke-width="3.4" fill="none"/>
<path d="M961.1 502.1L971.1 512.1M961.1 512.1L971.1 502.1" stroke="#00ffff" stroke-width="3.4" fill="none"/>
<path d="M140.4 84.4 L143.5 84.4 L146.6 84.4 L149.7 84.4 L152.8 84.5 L155.9 84.5 L159 84.6 L162.2 84.6 L165.3 84.6 L168.4 84.7 L171.5 84.7 L174.6 84.8 L177.7 84.8 L180.8 84.8 L183.9 84.8 L186.9 84.7 L190 84.6 L193 84.4 L196 84.1 L199 83.7 L202.1 83.3 L205.1 82.8 L208.1 82.3 L211.2 81.7 L214.2 81.2 L217.2 80.6 L220.2 80.1 L223.3 79.5 L226.3 79 L229.4 78.4 L232.5 77.7 L235.6 76.9 L238.6 76.1 L241.7 75.2 L244.8 74.3 L247.9 73.4 L251 72.5 L254.1 71.7 L257.2 71 L260.2 70.4 L263.3 69.9 L266.4 69.6 L269.5 69.4 L272.6 69.3 L275.6 69.3 L278.7 69.2 L281.8 69.2 L284.8 69.1 L287.9 69.1 L290.9 69.1 L294 69 L297.1 69 L300.1 69 L303.2 68.9 L306.3 68.9 L309.3 68.9 L312.4 68.9 L315.5 68.9 L318.5 68.9 L321.6 68.9 L324.6 68.9 L327.7 68.8 L330.7 68.8 L333.8 68.8 L336.9 68.8 L339.9 68.8 L343 68.8 L346 68.8 L349.1 68.8 L352.1 68.8 L355.2 68.8 L358.2 68.8 L361.2 68.8 L364.2 68.8 L367.2 68.8 L370.2 68.9 L373.2 68.9 L376.2 68.9 L379.2 68.9 L382.2 68.9 L385.2 68.9 L388.2 69 L391.2 69 L394.2 69 L397.2 69 L400.2 69 L403.3 69 L406.4 69 L409.5 69 L412.5 69 L415.6 69 L418.7 69 L421.7 69 L424.8 69 L427.9 69 L430.9 69 L434 69 L437.1 69 L440.1 69 L443.2 69 L446.3 69 L449.3 69 L452.4 69 L455.4 69 L458.5 69 L461.5 69 L464.6 69 L467.7 69 L470.7 69 L473.8 69 L476.8 69 L479.9 69 L482.9 69 L486 69 L489 69 L492 69 L495.1 69 L498.1 68.9 L501.1 68.9 L504.1 68.9 L507.1 68.8 L510.2 68.8 L513.2 68.7 L516.2 68.7 L519.2 68.7 L522.2 68.6 L525.3 68.6 L528.3 68.6 L531.3 68.6 L534.3 68.6 L537.4 68.6 L540.4 68.6 L543.5 68.6 L546.5 68.6 L549.6 68.6 L552.6 68.6 L555.7 68.6 L558.8 68.7 L561.8 68.7 L564.9 68.7 L567.9 68.7 L571 68.7 L574 68.7 L577.1 68.7 L580.1 68.7 L583.2 68.7 L586.3 68.8 L589.3 68.8 L592.4 68.8 L595.5 68.8 L598.5 68.8 L601.6 68.8 L604.6 68.8 L607.7 68.9 L610.8 68.9 L613.8 68.9 L616.9 68.9 L620.1 68.9 L623.3 68.9 L626.5 68.9 L629.6 68.9 L632.8 68.9 L636 69 L639.2 69 L642.4 69 L645.6 69 L648.8 69 L651.9 69 L655.1 69 L658.3 69 L661.5 69 L664.6 69 L667.7 69 L670.7 69 L673.8 68.9 L676.9 68.9 L680 68.9 L683 68.9 L686.1 68.8 L689.2 68.8 L692.3 68.7 L695.4 68.7 L698.4 68.6 L701.5 68.6 L704.6 68.5 L707.7 68.4 L710.8 68.3 L713.9 68.2 L717 68.1 L720.1 68 L723.2 67.8 L726.3 67.7 L729.4 67.5 L732.5 67.3 L735.6 67.2 L738.7 67 L741.8 66.8 L744.9 66.6 L748 66.4 L751.2 66.2 L754.3 66 L757.5 65.7 L760.6 65.4 L763.8 65.1 L766.9 64.8 L770.1 64.5 L773.3 64.2 L776.4 63.9 L779.6 63.6 L782.7 63.3 L785.9 63.1 L789 62.8 L792.2 62.6 L795.3 62.4 L798.4 62.2 L801.5 62 L804.6 61.8 L807.7 61.6 L810.8 61.3 L813.9 61.2 L816.9 61 L820 60.8 L823.1 60.7 L826.2 60.6 L829.3 60.5 L832.4 60.4 L835.5 60.4 L838.6 60.6 L841.6 61 L844.7 61.8 L847.7 62.9 L850.8 64.2 L853.8 65.7 L856.9 67.5 L860 69.5 L863 71.6 L866.1 73.9 L869.1 76.4 L872.2 79 L875.2 81.7 L878.3 84.5 L881.5 88 L884.6 92.5 L887.8 97.9 L891 104.2 L894.2 111.4 L897.3 119.3 L900.5 128 L903.7 137.3 L906.8 147.2 L910 157.6 L913.2 168.5 L916.4 179.8 L919.5 191.5 L922.7 203.4 L925.8 216 L928.9 230 L932 245.5 L935.1 262.3 L938.2 280.3 L941.3 299.6 L944.4 319.9 L947.5 341.2 L950.6 363.5 L953.7 386.7 L956.8 410.7 L959.9 435.3 L963 460.6 L966.1 486.5 L967.2 520" stroke="#ffc800" stroke-width="3.4" fill="none" stroke-linejoin="round"/>
<polygon points="140.4,94.9 149.5,79.2 131.3,79.2" fill="#ffc800"/>
<polygon points="183.9,95.3 193,79.5 174.8,79.5" fill="#ffc800"/>
<polygon points="226.3,89.5 235.4,73.8 217.2,73.8" fill="#ffc800"/>
<polygon points="269.5,79.9 278.6,64.2 260.4,64.2" fill="#ffc800"/>
<polygon points="312.4,79.4 321.5,63.7 303.3,63.7" fill="#ffc800"/>
<polygon points="355.2,79.3 364.3,63.5 346.1,63.5" fill="#ffc800"/>
<polygon points="400.2,79.5 409.3,63.8 391.2,63.8" fill="#ffc800"/>
<polygon points="443.2,79.5 452.3,63.8 434.1,63.8" fill="#ffc800"/>
<polygon points="486,79.5 495.1,63.8 476.9,63.8" fill="#ffc800"/>
<polygon points="531.3,79.1 540.4,63.3 522.2,63.3" fill="#ffc800"/>
<polygon points="574,79.2 583.1,63.5 564.9,63.5" fill="#ffc800"/>
<polygon points="616.9,79.4 626,63.7 607.8,63.7" fill="#ffc800"/>
<polygon points="661.5,79.5 670.6,63.8 652.4,63.8" fill="#ffc800"/>
<polygon points="704.6,79 713.7,63.2 695.5,63.2" fill="#ffc800"/>
<polygon points="748,76.9 757.1,61.2 738.9,61.2" fill="#ffc800"/>
<polygon points="792.2,73.1 801.3,57.4 783.1,57.4" fill="#ffc800"/>
<polygon points="835.5,70.9 844.6,55.1 826.4,55.1" fill="#ffc800"/>
<polygon points="878.3,95 887.4,79.2 869.2,79.2" fill="#ffc800"/>
<polygon points="922.7,213.9 931.8,198.2 913.6,198.2" fill="#ffc800"/>
<polygon points="966.1,497 975.2,481.2 957,481.2" fill="#ffc800"/>
</g>
<text x="126.7" y="27.1" font-size="34.2" text-anchor="end">0.2</text>
<text x="126.7" y="154.8" font-size="34.2" text-anchor="end">0.15</text>
<text x="126.7" y="282.6" font-size="34.2" text-anchor="end">0.1</text>
<text x="126.7" y="410.3" font-size="34.2" text-anchor="end">0.05</text>
<text x="126.7" y="538" font-size="34.2" text-anchor="end">0</text>
<text x="140" y="571.8" font-size="34.2" text-anchor="middle">0</text>
<text x="347.1" y="571.8" font-size="34.2" text-anchor="middle">0.25</text>
<text x="554.1" y="571.8" font-size="34.2" text-anchor="middle">0.5</text>
<text x="761.2" y="571.8" font-size="34.2" text-anchor="middle">0.75</text>
<text x="968.2" y="571.8" font-size="34.2" text-anchor="middle">1</text>
<text x="491.4" y="619.2" font-size="41" font-style="italic">r</text>
<text x="523.6" y="619.2" font-size="42">(</text>
<text x="538.1" y="619.2" font-size="40.3">mm</text>
<text x="601.3" y="619.2" font-size="42">)</text>
<g transform="translate(43.7 378.5) rotate(-90)"><text x="-0.1" y="0" font-size="38.5" font-style="italic">σ</text><text x="33.1" y="0" font-size="42">(</text><text x="47.5" y="0" font-size="40">n</text><text x="68.8" y="0" font-size="41.4">C</text><text x="99.7" y="4" font-size="44">/</text><text x="115.7" y="0" font-size="40.9">mm</text><text x="179" y="-13.7" font-size="27.5">2</text><text x="194.3" y="0" font-size="42">)</text></g>
<rect x="223.7" y="658" width="610" height="121.7" fill="#fff" stroke="#262626" stroke-width="1.6"/>
<line x1="236.7" y1="681.3" x2="312" y2="681.3" stroke="#0000ff" stroke-width="3.4"/>

<text x="322.5" y="689" font-size="31.6">1.49 kV</text>
<line x1="236.7" y1="718.6" x2="312" y2="718.6" stroke="#008000" stroke-width="3.4"/>
<polygon points="274.4,708.1 283.4,723.9 265.3,723.9" fill="#008000"/>
<text x="322.5" y="726.3" font-size="31.6">1.5 kV</text>
<line x1="236.7" y1="755.8" x2="312" y2="755.8" stroke="#ff0000" stroke-width="3.4"/>
<circle cx="274.4" cy="755.8" r="8" fill="#ff0000"/>
<text x="322.5" y="763.5" font-size="31.6">1.6 kV</text>
<line x1="449.4" y1="681.9" x2="525.4" y2="681.9" stroke="#8000ff" stroke-width="3.4"/>
<rect x="480.4" y="674.9" width="14" height="14" rx="1.5" fill="#8000ff"/>
<text x="536" y="689.6" font-size="31.6">1.7 kV</text>
<line x1="449.4" y1="719.2" x2="525.4" y2="719.2" stroke="#cc6600" stroke-width="3.4"/>
<polygon points="487.4,712 485.2,715.3 481.2,715.6 482.9,719.2 481.2,722.8 485.2,723.1 487.4,726.4 489.6,723.1 493.6,722.8 491.9,719.2 493.6,715.6 489.6,715.3" fill="#cc6600"/>
<text x="536" y="726.9" font-size="31.6">1.8 kV</text>
<line x1="449.4" y1="756.4" x2="525.4" y2="756.4" stroke="#000000" stroke-width="3.4"/>
<path d="M480.4 756.4H494.4M487.4 749.4V763.4" stroke="#000000" stroke-width="3.4" fill="none"/>
<text x="536" y="764.1" font-size="31.6">1.9 kV</text>
<line x1="648.3" y1="682.4" x2="724.2" y2="682.4" stroke="#ff00ff" stroke-width="3.4"/>
<path d="M679.2 682.4H693.2M686.2 675.4V689.4M681.2 677.4L691.2 687.4M681.2 687.4L691.2 677.4" stroke="#ff00ff" stroke-width="3.4" fill="none"/>
<text x="734" y="690.1" font-size="31.6">2 kV</text>
<line x1="648.3" y1="719.7" x2="724.2" y2="719.7" stroke="#00ffff" stroke-width="3.4"/>
<path d="M681.2 714.7L691.2 724.7M681.2 724.7L691.2 714.7" stroke="#00ffff" stroke-width="3.4" fill="none"/>
<text x="734" y="727.4" font-size="31.6">2.1 kV</text>
<line x1="648.3" y1="756.9" x2="724.2" y2="756.9" stroke="#ffc800" stroke-width="3.4"/>
<polygon points="686.2,767.4 695.3,751.6 677.2,751.6" fill="#ffc800"/>
<text x="734" y="764.6" font-size="31.6">2.2 kV</text>
<line x1="350.6" y1="904.5" x2="350.6" y2="1415.5" stroke="#dcdcdc" stroke-width="1.5"/>
<line x1="557.7" y1="904.5" x2="557.7" y2="1415.5" stroke="#dcdcdc" stroke-width="1.5"/>
<line x1="764.8" y1="904.5" x2="764.8" y2="1415.5" stroke="#dcdcdc" stroke-width="1.5"/>
<line x1="143.6" y1="1032.3" x2="971.8" y2="1032.3" stroke="#dcdcdc" stroke-width="1.5"/>
<line x1="143.6" y1="1160" x2="971.8" y2="1160" stroke="#dcdcdc" stroke-width="1.5"/>
<line x1="143.6" y1="1287.8" x2="971.8" y2="1287.8" stroke="#dcdcdc" stroke-width="1.5"/>
<rect x="144.1" y="904.3" width="827.5" height="511.1" fill="none" stroke="#262626" stroke-width="1.7"/>
<line x1="350.6" y1="904.3" x2="350.6" y2="912.3" stroke="#262626" stroke-width="1.6"/>
<line x1="350.6" y1="1415.4" x2="350.6" y2="1407.4" stroke="#262626" stroke-width="1.6"/>
<line x1="557.7" y1="904.3" x2="557.7" y2="912.3" stroke="#262626" stroke-width="1.6"/>
<line x1="557.7" y1="1415.4" x2="557.7" y2="1407.4" stroke="#262626" stroke-width="1.6"/>
<line x1="764.8" y1="904.3" x2="764.8" y2="912.3" stroke="#262626" stroke-width="1.6"/>
<line x1="764.8" y1="1415.4" x2="764.8" y2="1407.4" stroke="#262626" stroke-width="1.6"/>
<line x1="144.1" y1="1032.3" x2="152.1" y2="1032.3" stroke="#262626" stroke-width="1.6"/>
<line x1="971.6" y1="1032.3" x2="963.6" y2="1032.3" stroke="#262626" stroke-width="1.6"/>
<line x1="144.1" y1="1160" x2="152.1" y2="1160" stroke="#262626" stroke-width="1.6"/>
<line x1="971.6" y1="1160" x2="963.6" y2="1160" stroke="#262626" stroke-width="1.6"/>
<line x1="144.1" y1="1287.8" x2="152.1" y2="1287.8" stroke="#262626" stroke-width="1.6"/>
<line x1="971.6" y1="1287.8" x2="963.6" y2="1287.8" stroke="#262626" stroke-width="1.6"/>
<g clip-path="url(#c2)">
<path d="M143.9 908.7 L147 908.7 L150.1 908.7 L153.2 908.7 L156.3 908.7 L159.4 908.7 L162.5 908.7 L165.7 908.7 L168.8 908.7 L171.9 908.7 L175 908.7 L178.1 908.7 L181.2 908.7 L184.3 908.7 L187.4 908.7 L190.4 908.7 L193.5 908.7 L196.5 908.7 L199.5 908.7 L202.5 908.7 L205.6 908.7 L208.6 908.7 L211.6 908.7 L214.7 908.7 L217.7 908.7 L220.7 908.7 L223.7 908.7 L226.8 908.7 L229.8 908.7 L232.9 908.7 L236 908.7 L239.1 908.7 L242.1 908.7 L245.2 908.7 L248.3 908.7 L251.4 908.7 L254.5 908.7 L257.6 908.7 L260.7 908.7 L263.7 908.7 L266.8 908.7 L269.9 908.7 L273 908.7 L276.1 908.7 L279.1 908.7 L282.2 908.7 L285.3 908.7 L288.3 908.7 L291.4 908.7 L294.4 908.7 L297.5 908.7 L300.6 908.7 L303.6 908.7 L306.7 908.7 L309.8 908.7 L312.8 908.7 L315.9 908.7 L319 908.7 L322 908.7 L325.1 908.7 L328.1 908.7 L331.2 908.7 L334.2 908.7 L337.3 908.7 L340.4 908.7 L343.4 908.7 L346.5 908.7 L349.5 908.7 L352.6 908.7 L355.6 908.7 L358.7 908.7 L361.7 908.7 L364.7 908.7 L367.7 908.7 L370.7 908.7 L373.7 908.7 L376.7 908.7 L379.7 908.7 L382.7 908.7 L385.7 908.7 L388.7 908.7 L391.7 908.7 L394.7 908.7 L397.7 908.7 L400.7 908.7 L403.8 908.7 L406.8 908.7 L409.9 908.7 L413 908.7 L416 908.7 L419.1 908.7 L422.2 908.7 L425.2 908.7 L428.3 908.7 L431.4 908.7 L434.4 908.7 L437.5 908.7 L440.6 908.7 L443.6 908.7 L446.7 908.7 L449.8 908.7 L452.8 908.7 L455.9 908.7 L458.9 908.7 L462 908.7 L465 908.7 L468.1 908.7 L471.2 908.7 L474.2 908.7 L477.3 908.7 L480.3 908.7 L483.4 908.7 L486.4 908.7 L489.5 908.7 L492.5 908.7 L495.5 908.7 L498.6 908.7 L501.6 908.7 L504.6 908.7 L507.6 908.7 L510.6 908.7 L513.7 908.7 L516.7 908.7 L519.7 908.7 L522.7 908.7 L525.7 908.7 L528.8 908.7 L531.8 908.7 L534.8 908.7 L537.8 908.7 L540.9 908.7 L543.9 908.7 L547 908.7 L550 908.7 L553.1 908.7 L556.1 908.7 L559.2 908.7 L562.2 908.7 L565.3 908.7 L568.4 908.7 L571.4 908.7 L574.5 908.7 L577.5 908.7 L580.6 908.7 L583.6 908.7 L586.7 908.7 L589.8 908.7 L592.8 908.7 L595.9 908.7 L599 908.7 L602 908.7 L605.1 908.7 L608.1 908.7 L611.2 908.7 L614.3 908.7 L617.3 908.7 L620.4 908.7 L623.6 908.7 L626.8 908.7 L630 908.7 L633.1 908.6 L636.3 908.6 L639.5 908.6 L642.7 908.5 L645.9 908.5 L649.1 908.4 L652.3 908.4 L655.4 908.3 L658.6 908.3 L661.8 908.2 L665 908.2 L668.1 908.2 L671.2 908.1 L674.2 908.1 L677.3 908.1 L680.4 908 L683.5 908 L686.5 908 L689.6 907.9 L692.7 907.9 L695.8 907.9 L698.9 907.8 L701.9 907.8 L705 907.7 L708.1 907.7 L711.2 907.7 L714.3 907.6 L717.4 907.6 L720.5 907.5 L723.6 907.5 L726.7 907.4 L729.8 907.3 L732.9 907.3 L736 907.2 L739.1 907.2 L742.2 907.1 L745.3 907 L748.4 907 L751.5 906.9 L754.7 906.8 L757.8 906.7 L761 906.7 L764.1 906.6 L767.3 906.5 L770.4 906.4 L773.6 906.3 L776.8 906.2 L779.9 906.1 L783.1 906 L786.2 905.9 L789.4 905.8 L792.5 905.7 L795.7 905.6 L798.8 905.5 L801.9 905.4 L805 905.3 L808.1 905.2 L811.2 905.1 L814.3 905 L817.4 904.9 L820.4 904.7 L823.5 904.6 L826.6 904.5 L829.7 904.4 L832.8 904.4 L835.9 904.3 L839 904.2 L842.1 904.1 L845.1 904.1 L848.2 904 L851.2 903.9 L854.3 903.9 L857.3 903.8 L860.4 903.8 L863.5 903.7 L866.5 903.7 L869.6 903.6 L872.6 903.6 L875.7 903.6 L878.7 903.5 L881.8 903.5 L885 903.5 L888.1 903.4 L891.3 903.4 L894.5 903.4 L897.7 903.4 L900.8 903.3 L904 903.3 L907.2 903.3 L910.3 903.3 L913.5 903.3 L916.7 903.3 L919.9 903.2 L923 903.2 L926.2 903.2 L929.3 903.2 L932.4 903.2 L935.5 903.1 L938.6 903.1 L941.7 903.1 L944.8 903.1 L947.9 903.1 L951 903.1 L954.1 903 L957.2 903 L960.3 903 L963.4 903 L966.5 903 L969.6 903" stroke="#0000ff" stroke-width="3.4" fill="none" stroke-linejoin="round"/>




















<path d="M143.9 914 L147 914 L150.1 914 L153.2 914 L156.3 914 L159.4 914 L162.5 914 L165.7 914 L168.8 914 L171.9 914 L175 914 L178.1 914 L181.2 914 L184.3 914 L187.4 914 L190.4 914 L193.5 914 L196.5 914 L199.5 914 L202.5 914 L205.6 914 L208.6 914 L211.6 914 L214.7 914 L217.7 914 L220.7 914 L223.7 914 L226.8 914 L229.8 914 L232.9 914 L236 914 L239.1 914 L242.1 914 L245.2 914 L248.3 914 L251.4 914 L254.5 914 L257.6 914 L260.7 914 L263.7 914 L266.8 914 L269.9 914 L273 914 L276.1 914 L279.1 914 L282.2 914 L285.3 914 L288.3 914 L291.4 914 L294.4 914 L297.5 914 L300.6 914 L303.6 914 L306.7 914 L309.8 914 L312.8 914 L315.9 914 L319 914 L322 914 L325.1 914 L328.1 914 L331.2 914 L334.2 914 L337.3 914 L340.4 914 L343.4 914 L346.5 914 L349.5 914 L352.6 914 L355.6 914 L358.7 914 L361.7 914 L364.7 914 L367.7 914 L370.7 914 L373.7 914 L376.7 914 L379.7 914 L382.7 914 L385.7 914 L388.7 914 L391.7 914 L394.7 914 L397.7 914 L400.7 914 L403.8 914 L406.8 914 L409.9 914 L413 914 L416 914 L419.1 914 L422.2 914 L425.2 914 L428.3 914 L431.4 914 L434.4 914 L437.5 914 L440.6 914 L443.6 914 L446.7 914 L449.8 914 L452.8 914 L455.9 914 L458.9 914 L462 914 L465 914 L468.1 914 L471.2 914 L474.2 914 L477.3 914 L480.3 914 L483.4 914 L486.4 914 L489.5 914 L492.5 914 L495.5 914 L498.6 914 L501.6 914 L504.6 914 L507.6 914 L510.6 914 L513.7 914 L516.7 914 L519.7 914 L522.7 914 L525.7 914 L528.8 914 L531.8 914 L534.8 914 L537.8 914 L540.9 914 L543.9 914 L547 914 L550 914 L553.1 914 L556.1 914 L559.2 914 L562.2 914 L565.3 914 L568.4 914 L571.4 914 L574.5 914 L577.5 914 L580.6 914 L583.6 914 L586.7 914 L589.8 914 L592.8 914 L595.9 914 L599 914 L602 914 L605.1 914 L608.1 914 L611.2 914 L614.3 914 L617.3 914 L620.4 914 L623.6 914 L626.8 914 L630 914 L633.1 914 L636.3 914 L639.5 914 L642.7 914 L645.9 914 L649.1 914 L652.3 914 L655.4 914 L658.6 914 L661.8 914 L665 914 L668.1 914 L671.2 914 L674.2 914 L677.3 914 L680.4 914 L683.5 914 L686.5 914 L689.6 914 L692.7 914 L695.8 914 L698.9 914 L701.9 914 L705 914 L708.1 914 L711.2 914 L714.3 914 L717.4 914 L720.5 914 L723.6 913.9 L726.7 913.9 L729.8 913.9 L732.9 913.8 L736 913.8 L739.1 913.7 L742.2 913.7 L745.3 913.6 L748.4 913.6 L751.5 913.5 L754.7 913.4 L757.8 913.3 L761 913.1 L764.1 912.9 L767.3 912.7 L770.4 912.5 L773.6 912.2 L776.8 911.9 L779.9 911.7 L783.1 911.4 L786.2 911.1 L789.4 910.8 L792.5 910.5 L795.7 910.3 L798.8 910.1 L801.9 909.8 L805 909.6 L808.1 909.3 L811.2 909.1 L814.3 908.8 L817.4 908.5 L820.4 908.3 L823.5 908 L826.6 907.8 L829.7 907.6 L832.8 907.3 L835.9 907.1 L839 906.9 L842.1 906.7 L845.1 906.5 L848.2 906.3 L851.2 906.1 L854.3 905.9 L857.3 905.7 L860.4 905.5 L863.5 905.3 L866.5 905.1 L869.6 905 L872.6 904.8 L875.7 904.7 L878.7 904.6 L881.8 904.5 L885 904.4 L888.1 904.4 L891.3 904.3 L894.5 904.2 L897.7 904.2 L900.8 904.2 L904 904.1 L907.2 904.1 L910.3 904 L913.5 904 L916.7 903.9 L919.9 903.9 L923 903.9 L926.2 903.8 L929.3 903.7 L932.4 903.7 L935.5 903.6 L938.6 903.5 L941.7 903.5 L944.8 903.4 L947.9 903.3 L951 903.2 L954.1 903.2 L957.2 903.1 L960.3 903.1 L963.4 903 L966.5 903 L969.6 903" stroke="#008000" stroke-width="3.4" fill="none" stroke-linejoin="round"/>
<polygon points="143.9,903.5 153,919.2 134.8,919.2" fill="#008000"/>
<polygon points="187.4,903.5 196.5,919.2 178.3,919.2" fill="#008000"/>
<polygon points="229.8,903.5 238.9,919.2 220.7,919.2" fill="#008000"/>
<polygon points="273,903.5 282.1,919.2 263.9,919.2" fill="#008000"/>
<polygon points="315.9,903.5 325,919.2 306.8,919.2" fill="#008000"/>
<polygon points="358.7,903.5 367.8,919.2 349.6,919.2" fill="#008000"/>
<polygon points="403.8,903.5 412.8,919.2 394.7,919.2" fill="#008000"/>
<polygon points="446.7,903.5 455.8,919.2 437.6,919.2" fill="#008000"/>
<polygon points="489.5,903.5 498.6,919.2 480.4,919.2" fill="#008000"/>
<polygon points="534.8,903.5 543.9,919.2 525.7,919.2" fill="#008000"/>
<polygon points="577.5,903.5 586.6,919.2 568.4,919.2" fill="#008000"/>
<polygon points="620.4,903.5 629.5,919.2 611.3,919.2" fill="#008000"/>
<polygon points="665,903.5 674.1,919.2 655.9,919.2" fill="#008000"/>
<polygon points="708.1,903.5 717.2,919.2 699,919.2" fill="#008000"/>
<polygon points="751.5,903 760.6,918.8 742.4,918.8" fill="#008000"/>
<polygon points="795.7,899.8 804.8,915.5 786.6,915.5" fill="#008000"/>
<polygon points="839,896.4 848.1,912.1 829.9,912.1" fill="#008000"/>
<polygon points="881.8,894 890.9,909.8 872.7,909.8" fill="#008000"/>
<polygon points="926.2,893.3 935.3,909 917.1,909" fill="#008000"/>
<polygon points="969.6,892.5 978.7,908.2 960.5,908.2" fill="#008000"/>
<path d="M143.9 994.1 L147 994 L150.1 993.8 L153.2 993.4 L156.3 992.9 L159.4 992.4 L162.5 991.7 L165.7 990.9 L168.8 990.1 L171.9 989.3 L175 988.4 L178.1 987.5 L181.2 986.6 L184.3 985.7 L187.4 984.8 L190.4 983.9 L193.5 982.8 L196.5 981.7 L199.5 980.4 L202.5 979.1 L205.6 977.7 L208.6 976.3 L211.6 975 L214.7 973.7 L217.7 972.5 L220.7 971.4 L223.7 970.4 L226.8 969.6 L229.8 969 L232.9 968.5 L236 968 L239.1 967.5 L242.1 967.1 L245.2 966.6 L248.3 966.2 L251.4 965.9 L254.5 965.5 L257.6 965.2 L260.7 965 L263.7 964.8 L266.8 964.6 L269.9 964.5 L273 964.5 L276.1 964.5 L279.1 964.6 L282.2 964.7 L285.3 964.8 L288.3 965 L291.4 965.1 L294.4 965.3 L297.5 965.5 L300.6 965.6 L303.6 965.8 L306.7 966 L309.8 966.1 L312.8 966.2 L315.9 966.3 L319 966.4 L322 966.4 L325.1 966.5 L328.1 966.6 L331.2 966.6 L334.2 966.7 L337.3 966.7 L340.4 966.8 L343.4 966.8 L346.5 966.8 L349.5 966.9 L352.6 966.9 L355.6 966.9 L358.7 966.9 L361.7 966.9 L364.7 966.9 L367.7 966.8 L370.7 966.8 L373.7 966.7 L376.7 966.7 L379.7 966.6 L382.7 966.6 L385.7 966.5 L388.7 966.5 L391.7 966.4 L394.7 966.4 L397.7 966.3 L400.7 966.3 L403.8 966.3 L406.8 966.3 L409.9 966.3 L413 966.3 L416 966.3 L419.1 966.3 L422.2 966.3 L425.2 966.3 L428.3 966.3 L431.4 966.3 L434.4 966.3 L437.5 966.3 L440.6 966.3 L443.6 966.3 L446.7 966.3 L449.8 966.3 L452.8 966.3 L455.9 966.3 L458.9 966.3 L462 966.3 L465 966.3 L468.1 966.3 L471.2 966.3 L474.2 966.3 L477.3 966.3 L480.3 966.3 L483.4 966.3 L486.4 966.3 L489.5 966.3 L492.5 966.3 L495.5 966.3 L498.6 966.3 L501.6 966.3 L504.6 966.3 L507.6 966.3 L510.6 966.3 L513.7 966.3 L516.7 966.3 L519.7 966.3 L522.7 966.3 L525.7 966.3 L528.8 966.3 L531.8 966.3 L534.8 966.3 L537.8 966.3 L540.9 966.3 L543.9 966.3 L547 966.3 L550 966.3 L553.1 966.3 L556.1 966.3 L559.2 966.3 L562.2 966.3 L565.3 966.3 L568.4 966.3 L571.4 966.3 L574.5 966.3 L577.5 966.3 L580.6 966.3 L583.6 966.3 L586.7 966.3 L589.8 966.3 L592.8 966.3 L595.9 966.3 L599 966.3 L602 966.3 L605.1 966.3 L608.1 966.3 L611.2 966.3 L614.3 966.3 L617.3 966.3 L620.4 966.3 L623.6 966.3 L626.8 966.3 L630 966.3 L633.1 966.3 L636.3 966.3 L639.5 966.3 L642.7 966.3 L645.9 966.3 L649.1 966.3 L652.3 966.3 L655.4 966.3 L658.6 966.3 L661.8 966.3 L665 966.3 L668.1 966.3 L671.2 966.3 L674.2 966.4 L677.3 966.4 L680.4 966.4 L683.5 966.5 L686.5 966.5 L689.6 966.6 L692.7 966.6 L695.8 966.7 L698.9 966.8 L701.9 966.8 L705 966.9 L708.1 966.9 L711.2 966.9 L714.3 967 L717.4 967 L720.5 967.1 L723.6 967.1 L726.7 967.2 L729.8 967.2 L732.9 967.3 L736 967.3 L739.1 967.3 L742.2 967.4 L745.3 967.4 L748.4 967.4 L751.5 967.4 L754.7 967.4 L757.8 967.4 L761 967.4 L764.1 967.4 L767.3 967.3 L770.4 967.3 L773.6 967.3 L776.8 967.2 L779.9 967.2 L783.1 967.1 L786.2 967.1 L789.4 967 L792.5 967 L795.7 966.9 L798.8 966.8 L801.9 966.6 L805 966.4 L808.1 966.1 L811.2 965.8 L814.3 965.4 L817.4 965 L820.4 964.5 L823.5 964 L826.6 963.5 L829.7 962.9 L832.8 962.3 L835.9 961.7 L839 961.1 L842.1 960.4 L845.1 959.5 L848.2 958.5 L851.2 957.4 L854.3 956.2 L857.3 954.8 L860.4 953.4 L863.5 951.9 L866.5 950.3 L869.6 948.7 L872.6 947.1 L875.7 945.4 L878.7 943.7 L881.8 942 L885 940.1 L888.1 937.9 L891.3 935.4 L894.5 932.7 L897.7 930 L900.8 927.2 L904 924.3 L907.2 921.6 L910.3 919 L913.5 916.5 L916.7 914.3 L919.9 912.5 L923 911 L926.2 909.9 L929.3 909.1 L932.4 908.3 L935.5 907.6 L938.6 906.9 L941.7 906.2 L944.8 905.6 L947.9 905 L951 904.5 L954.1 904.1 L957.2 903.7 L960.3 903.4 L963.4 903.2 L966.5 903 L969.6 903" stroke="#ff0000" stroke-width="3.4" fill="none" stroke-linejoin="round"/>
<circle cx="143.9" cy="994.1" r="8" fill="#ff0000"/>
<circle cx="187.4" cy="984.8" r="8" fill="#ff0000"/>
<circle cx="229.8" cy="969" r="8" fill="#ff0000"/>
<circle cx="273" cy="964.5" r="8" fill="#ff0000"/>
<circle cx="315.9" cy="966.3" r="8" fill="#ff0000"/>
<circle cx="358.7" cy="966.9" r="8" fill="#ff0000"/>
<circle cx="403.8" cy="966.3" r="8" fill="#ff0000"/>
<circle cx="446.7" cy="966.3" r="8" fill="#ff0000"/>
<circle cx="489.5" cy="966.3" r="8" fill="#ff0000"/>
<circle cx="534.8" cy="966.3" r="8" fill="#ff0000"/>
<circle cx="577.5" cy="966.3" r="8" fill="#ff0000"/>
<circle cx="620.4" cy="966.3" r="8" fill="#ff0000"/>
<circle cx="665" cy="966.3" r="8" fill="#ff0000"/>
<circle cx="708.1" cy="966.9" r="8" fill="#ff0000"/>
<circle cx="751.5" cy="967.4" r="8" fill="#ff0000"/>
<circle cx="795.7" cy="966.9" r="8" fill="#ff0000"/>
<circle cx="839" cy="961.1" r="8" fill="#ff0000"/>
<circle cx="881.8" cy="942" r="8" fill="#ff0000"/>
<circle cx="926.2" cy="909.9" r="8" fill="#ff0000"/>
<circle cx="969.6" cy="903" r="8" fill="#ff0000"/>
<path d="M143.9 1178.8 L147 1177.9 L150.1 1175.4 L153.2 1171.4 L156.3 1166 L159.4 1159.5 L162.5 1151.9 L165.7 1143.5 L168.8 1134.4 L171.9 1124.6 L175 1114.5 L178.1 1104.1 L181.2 1093.6 L184.3 1083.2 L187.4 1073 L190.4 1063.4 L193.5 1054.2 L196.5 1045.4 L199.5 1037.2 L202.5 1029.5 L205.6 1022.4 L208.6 1016 L211.6 1010.3 L214.7 1005.3 L217.7 1001.1 L220.7 997.8 L223.7 995.3 L226.8 993.8 L229.8 993.3 L232.9 993.6 L236 994.4 L239.1 995.6 L242.1 997.3 L245.2 999.2 L248.3 1001.3 L251.4 1003.5 L254.5 1005.8 L257.6 1008 L260.7 1010.1 L263.7 1012.1 L266.8 1013.8 L269.9 1015.1 L273 1016 L276.1 1016.7 L279.1 1017.3 L282.2 1017.9 L285.3 1018.5 L288.3 1019.1 L291.4 1019.6 L294.4 1020.1 L297.5 1020.5 L300.6 1020.9 L303.6 1021.2 L306.7 1021.4 L309.8 1021.6 L312.8 1021.8 L315.9 1021.8 L319 1021.8 L322 1021.8 L325.1 1021.7 L328.1 1021.6 L331.2 1021.5 L334.2 1021.4 L337.3 1021.3 L340.4 1021.2 L343.4 1021.1 L346.5 1020.9 L349.5 1020.8 L352.6 1020.7 L355.6 1020.6 L358.7 1020.5 L361.7 1020.4 L364.7 1020.3 L367.7 1020.2 L370.7 1020.1 L373.7 1020 L376.7 1019.9 L379.7 1019.8 L382.7 1019.7 L385.7 1019.7 L388.7 1019.6 L391.7 1019.5 L394.7 1019.4 L397.7 1019.3 L400.7 1019.3 L403.8 1019.2 L406.8 1019.1 L409.9 1019.1 L413 1019 L416 1019 L419.1 1018.9 L422.2 1018.9 L425.2 1018.8 L428.3 1018.8 L431.4 1018.8 L434.4 1018.7 L437.5 1018.7 L440.6 1018.7 L443.6 1018.6 L446.7 1018.6 L449.8 1018.6 L452.8 1018.6 L455.9 1018.5 L458.9 1018.5 L462 1018.5 L465 1018.5 L468.1 1018.5 L471.2 1018.4 L474.2 1018.4 L477.3 1018.4 L480.3 1018.4 L483.4 1018.4 L486.4 1018.4 L489.5 1018.4 L492.5 1018.4 L495.5 1018.4 L498.6 1018.4 L501.6 1018.4 L504.6 1018.4 L507.6 1018.4 L510.6 1018.4 L513.7 1018.4 L516.7 1018.4 L519.7 1018.4 L522.7 1018.4 L525.7 1018.4 L528.8 1018.4 L531.8 1018.4 L534.8 1018.4 L537.8 1018.4 L540.9 1018.4 L543.9 1018.4 L547 1018.4 L550 1018.4 L553.1 1018.4 L556.1 1018.4 L559.2 1018.4 L562.2 1018.4 L565.3 1018.4 L568.4 1018.4 L571.4 1018.4 L574.5 1018.4 L577.5 1018.4 L580.6 1018.4 L583.6 1018.4 L586.7 1018.4 L589.8 1018.4 L592.8 1018.4 L595.9 1018.4 L599 1018.4 L602 1018.4 L605.1 1018.4 L608.1 1018.4 L611.2 1018.4 L614.3 1018.4 L617.3 1018.4 L620.4 1018.4 L623.6 1018.4 L626.8 1018.4 L630 1018.4 L633.1 1018.4 L636.3 1018.4 L639.5 1018.4 L642.7 1018.4 L645.9 1018.4 L649.1 1018.4 L652.3 1018.4 L655.4 1018.4 L658.6 1018.4 L661.8 1018.4 L665 1018.4 L668.1 1018.4 L671.2 1018.4 L674.2 1018.5 L677.3 1018.5 L680.4 1018.6 L683.5 1018.6 L686.5 1018.7 L689.6 1018.8 L692.7 1018.8 L695.8 1018.9 L698.9 1019 L701.9 1019.1 L705 1019.1 L708.1 1019.2 L711.2 1019.3 L714.3 1019.3 L717.4 1019.4 L720.5 1019.4 L723.6 1019.5 L726.7 1019.6 L729.8 1019.6 L732.9 1019.7 L736 1019.7 L739.1 1019.8 L742.2 1019.9 L745.3 1019.9 L748.4 1020 L751.5 1020 L754.7 1020 L757.8 1020.1 L761 1020.1 L764.1 1020.2 L767.3 1020.2 L770.4 1020.3 L773.6 1020.3 L776.8 1020.4 L779.9 1020.4 L783.1 1020.4 L786.2 1020.5 L789.4 1020.5 L792.5 1020.5 L795.7 1020.5 L798.8 1020.5 L801.9 1020.4 L805 1020.4 L808.1 1020.3 L811.2 1020.1 L814.3 1020 L817.4 1019.8 L820.4 1019.6 L823.5 1019.3 L826.6 1019.1 L829.7 1018.8 L832.8 1018.5 L835.9 1018.2 L839 1017.9 L842.1 1017.5 L845.1 1016.9 L848.2 1016.1 L851.2 1015.1 L854.3 1014 L857.3 1012.7 L860.4 1011.3 L863.5 1009.8 L866.5 1008.1 L869.6 1006.4 L872.6 1004.6 L875.7 1002.7 L878.7 1000.7 L881.8 998.7 L885 996.3 L888.1 993.2 L891.3 989.6 L894.5 985.6 L897.7 981.2 L900.8 976.6 L904 971.8 L907.2 966.9 L910.3 962 L913.5 957.2 L916.7 952.6 L919.9 948.3 L923 944.3 L926.2 940.7 L929.3 937.4 L932.4 933.9 L935.5 930.3 L938.6 926.6 L941.7 923 L944.8 919.5 L947.9 916.2 L951 913.1 L954.1 910.3 L957.2 907.8 L960.3 905.8 L963.4 904.3 L966.5 903.3 L969.6 903" stroke="#8000ff" stroke-width="3.4" fill="none" stroke-linejoin="round"/>
<rect x="136.9" y="1171.8" width="14" height="14" rx="1.5" fill="#8000ff"/>
<rect x="180.4" y="1066" width="14" height="14" rx="1.5" fill="#8000ff"/>
<rect x="222.8" y="986.3" width="14" height="14" rx="1.5" fill="#8000ff"/>
<rect x="266" y="1009" width="14" height="14" rx="1.5" fill="#8000ff"/>
<rect x="308.9" y="1014.8" width="14" height="14" rx="1.5" fill="#8000ff"/>
<rect x="351.7" y="1013.5" width="14" height="14" rx="1.5" fill="#8000ff"/>
<rect x="396.8" y="1012.2" width="14" height="14" rx="1.5" fill="#8000ff"/>
<rect x="439.7" y="1011.6" width="14" height="14" rx="1.5" fill="#8000ff"/>
<rect x="482.5" y="1011.4" width="14" height="14" rx="1.5" fill="#8000ff"/>
<rect x="527.8" y="1011.4" width="14" height="14" rx="1.5" fill="#8000ff"/>
<rect x="570.5" y="1011.4" width="14" height="14" rx="1.5" fill="#8000ff"/>
<rect x="613.4" y="1011.4" width="14" height="14" rx="1.5" fill="#8000ff"/>
<rect x="658" y="1011.4" width="14" height="14" rx="1.5" fill="#8000ff"/>
<rect x="701.1" y="1012.2" width="14" height="14" rx="1.5" fill="#8000ff"/>
<rect x="744.5" y="1013" width="14" height="14" rx="1.5" fill="#8000ff"/>
<rect x="788.7" y="1013.5" width="14" height="14" rx="1.5" fill="#8000ff"/>
<rect x="832" y="1010.9" width="14" height="14" rx="1.5" fill="#8000ff"/>
<rect x="874.8" y="991.7" width="14" height="14" rx="1.5" fill="#8000ff"/>
<rect x="919.2" y="933.7" width="14" height="14" rx="1.5" fill="#8000ff"/>
<rect x="962.6" y="896" width="14" height="14" rx="1.5" fill="#8000ff"/>
<path d="M143.9 1189.3 L147 1188.7 L150.1 1187.1 L153.2 1184.5 L156.3 1181.1 L159.4 1176.9 L162.5 1172 L165.7 1166.5 L168.8 1160.6 L171.9 1154.3 L175 1147.6 L178.1 1140.8 L181.2 1133.9 L184.3 1126.9 L187.4 1120.1 L190.4 1113.6 L193.5 1107.3 L196.5 1101.3 L199.5 1095.6 L202.5 1090.3 L205.6 1085.3 L208.6 1080.8 L211.6 1076.8 L214.7 1073.2 L217.7 1070.2 L220.7 1067.8 L223.7 1066.1 L226.8 1065 L229.8 1064.6 L232.9 1064.7 L236 1065.1 L239.1 1065.6 L242.1 1066.2 L245.2 1067 L248.3 1067.9 L251.4 1068.8 L254.5 1069.7 L257.6 1070.7 L260.7 1071.5 L263.7 1072.3 L266.8 1073 L269.9 1073.5 L273 1073.8 L276.1 1074 L279.1 1074.2 L282.2 1074.4 L285.3 1074.6 L288.3 1074.8 L291.4 1075 L294.4 1075.1 L297.5 1075.3 L300.6 1075.4 L303.6 1075.5 L306.7 1075.6 L309.8 1075.6 L312.8 1075.7 L315.9 1075.7 L319 1075.7 L322 1075.6 L325.1 1075.5 L328.1 1075.4 L331.2 1075.2 L334.2 1075.1 L337.3 1074.9 L340.4 1074.7 L343.4 1074.5 L346.5 1074.3 L349.5 1074.2 L352.6 1074 L355.6 1073.9 L358.7 1073.8 L361.7 1073.7 L364.7 1073.7 L367.7 1073.6 L370.7 1073.5 L373.7 1073.5 L376.7 1073.4 L379.7 1073.4 L382.7 1073.3 L385.7 1073.3 L388.7 1073.2 L391.7 1073.2 L394.7 1073.2 L397.7 1073.1 L400.7 1073.1 L403.8 1073 L406.8 1072.9 L409.9 1072.9 L413 1072.8 L416 1072.7 L419.1 1072.7 L422.2 1072.6 L425.2 1072.5 L428.3 1072.4 L431.4 1072.4 L434.4 1072.3 L437.5 1072.3 L440.6 1072.2 L443.6 1072.2 L446.7 1072.2 L449.8 1072.2 L452.8 1072.2 L455.9 1072.2 L458.9 1072.2 L462 1072.2 L465 1072.2 L468.1 1072.2 L471.2 1072.2 L474.2 1072.2 L477.3 1072.2 L480.3 1072.2 L483.4 1072.2 L486.4 1072.2 L489.5 1072.2 L492.5 1072.2 L495.5 1072.2 L498.6 1072.2 L501.6 1072.2 L504.6 1072.2 L507.6 1072.2 L510.6 1072.2 L513.7 1072.2 L516.7 1072.2 L519.7 1072.2 L522.7 1072.2 L525.7 1072.2 L528.8 1072.2 L531.8 1072.2 L534.8 1072.2 L537.8 1072.2 L540.9 1072.2 L543.9 1072.2 L547 1072.2 L550 1072.2 L553.1 1072.2 L556.1 1072.2 L559.2 1072.2 L562.2 1072.2 L565.3 1072.2 L568.4 1072.2 L571.4 1072.2 L574.5 1072.2 L577.5 1072.2 L580.6 1072.2 L583.6 1072.2 L586.7 1072.2 L589.8 1072.2 L592.8 1072.2 L595.9 1072.2 L599 1072.2 L602 1072.2 L605.1 1072.2 L608.1 1072.2 L611.2 1072.2 L614.3 1072.2 L617.3 1072.2 L620.4 1072.2 L623.6 1072.2 L626.8 1072.2 L630 1072.2 L633.1 1072.2 L636.3 1072.3 L639.5 1072.3 L642.7 1072.3 L645.9 1072.3 L649.1 1072.4 L652.3 1072.4 L655.4 1072.4 L658.6 1072.4 L661.8 1072.5 L665 1072.5 L668.1 1072.5 L671.2 1072.6 L674.2 1072.6 L677.3 1072.6 L680.4 1072.6 L683.5 1072.7 L686.5 1072.7 L689.6 1072.7 L692.7 1072.8 L695.8 1072.8 L698.9 1072.8 L701.9 1072.9 L705 1072.9 L708.1 1073 L711.2 1073.1 L714.3 1073.2 L717.4 1073.3 L720.5 1073.4 L723.6 1073.5 L726.7 1073.7 L729.8 1073.8 L732.9 1074 L736 1074.2 L739.1 1074.3 L742.2 1074.5 L745.3 1074.6 L748.4 1074.8 L751.5 1074.9 L754.7 1075 L757.8 1075.2 L761 1075.3 L764.1 1075.5 L767.3 1075.6 L770.4 1075.8 L773.6 1075.9 L776.8 1076.1 L779.9 1076.2 L783.1 1076.3 L786.2 1076.4 L789.4 1076.4 L792.5 1076.5 L795.7 1076.5 L798.8 1076.5 L801.9 1076.4 L805 1076.4 L808.1 1076.2 L811.2 1076.1 L814.3 1075.9 L817.4 1075.7 L820.4 1075.5 L823.5 1075.3 L826.6 1075 L829.7 1074.7 L832.8 1074.4 L835.9 1074.1 L839 1073.8 L842.1 1073.4 L845.1 1072.7 L848.2 1071.9 L851.2 1071 L854.3 1069.8 L857.3 1068.5 L860.4 1067.1 L863.5 1065.6 L866.5 1063.9 L869.6 1062.1 L872.6 1060.3 L875.7 1058.3 L878.7 1056.3 L881.8 1054.2 L885 1051.7 L888.1 1048.7 L891.3 1045.3 L894.5 1041.4 L897.7 1037.1 L900.8 1032.5 L904 1027.6 L907.2 1022.5 L910.3 1017.3 L913.5 1011.9 L916.7 1006.4 L919.9 1000.9 L923 995.5 L926.2 990.1 L929.3 984.5 L932.4 978.3 L935.5 971.6 L938.6 964.5 L941.7 957.2 L944.8 949.8 L947.9 942.4 L951 935.2 L954.1 928.3 L957.2 921.8 L960.3 915.9 L963.4 910.7 L966.5 906.4 L969.6 903" stroke="#cc6600" stroke-width="3.4" fill="none" stroke-linejoin="round"/>
<polygon points="143.9,1182.1 141.7,1185.4 137.7,1185.7 139.4,1189.3 137.7,1192.9 141.7,1193.2 143.9,1196.5 146.1,1193.2 150.1,1192.9 148.4,1189.3 150.1,1185.7 146.1,1185.4" fill="#cc6600"/>
<polygon points="187.4,1112.9 185.2,1116.2 181.2,1116.5 182.9,1120.1 181.2,1123.7 185.2,1124 187.4,1127.3 189.6,1124 193.6,1123.7 191.9,1120.1 193.6,1116.5 189.6,1116.2" fill="#cc6600"/>
<polygon points="229.8,1057.4 227.6,1060.7 223.6,1061 225.3,1064.6 223.6,1068.2 227.6,1068.5 229.8,1071.8 232,1068.5 236,1068.2 234.3,1064.6 236,1061 232,1060.7" fill="#cc6600"/>
<polygon points="273,1066.6 270.8,1069.9 266.8,1070.2 268.5,1073.8 266.8,1077.4 270.8,1077.7 273,1081 275.2,1077.7 279.2,1077.4 277.5,1073.8 279.2,1070.2 275.2,1069.9" fill="#cc6600"/>
<polygon points="315.9,1068.5 313.7,1071.8 309.7,1072.1 311.4,1075.7 309.7,1079.3 313.7,1079.6 315.9,1082.9 318.1,1079.6 322.1,1079.3 320.4,1075.7 322.1,1072.1 318.1,1071.8" fill="#cc6600"/>
<polygon points="358.7,1066.6 356.5,1069.9 352.5,1070.2 354.2,1073.8 352.5,1077.4 356.5,1077.7 358.7,1081 360.9,1077.7 364.9,1077.4 363.2,1073.8 364.9,1070.2 360.9,1069.9" fill="#cc6600"/>
<polygon points="403.8,1065.8 401.5,1069.1 397.5,1069.4 399.3,1073 397.5,1076.6 401.5,1076.9 403.8,1080.2 406,1076.9 410,1076.6 408.2,1073 410,1069.4 406,1069.1" fill="#cc6600"/>
<polygon points="446.7,1065 444.5,1068.3 440.5,1068.6 442.2,1072.2 440.5,1075.8 444.5,1076.1 446.7,1079.4 448.9,1076.1 452.9,1075.8 451.2,1072.2 452.9,1068.6 448.9,1068.3" fill="#cc6600"/>
<polygon points="489.5,1065 487.3,1068.3 483.3,1068.6 485,1072.2 483.3,1075.8 487.3,1076.1 489.5,1079.4 491.7,1076.1 495.7,1075.8 494,1072.2 495.7,1068.6 491.7,1068.3" fill="#cc6600"/>
<polygon points="534.8,1065 532.6,1068.3 528.6,1068.6 530.3,1072.2 528.6,1075.8 532.6,1076.1 534.8,1079.4 537,1076.1 541,1075.8 539.3,1072.2 541,1068.6 537,1068.3" fill="#cc6600"/>
<polygon points="577.5,1065 575.3,1068.3 571.3,1068.6 573,1072.2 571.3,1075.8 575.3,1076.1 577.5,1079.4 579.7,1076.1 583.7,1075.8 582,1072.2 583.7,1068.6 579.7,1068.3" fill="#cc6600"/>
<polygon points="620.4,1065 618.2,1068.3 614.2,1068.6 615.9,1072.2 614.2,1075.8 618.2,1076.1 620.4,1079.4 622.6,1076.1 626.6,1075.8 624.9,1072.2 626.6,1068.6 622.6,1068.3" fill="#cc6600"/>
<polygon points="665,1065.3 662.8,1068.6 658.8,1068.9 660.5,1072.5 658.8,1076.1 662.8,1076.4 665,1079.7 667.2,1076.4 671.2,1076.1 669.5,1072.5 671.2,1068.9 667.2,1068.6" fill="#cc6600"/>
<polygon points="708.1,1065.8 705.9,1069.1 701.9,1069.4 703.6,1073 701.9,1076.6 705.9,1076.9 708.1,1080.2 710.3,1076.9 714.3,1076.6 712.6,1073 714.3,1069.4 710.3,1069.1" fill="#cc6600"/>
<polygon points="751.5,1067.7 749.3,1071 745.3,1071.3 747,1074.9 745.3,1078.5 749.3,1078.8 751.5,1082.1 753.7,1078.8 757.7,1078.5 756,1074.9 757.7,1071.3 753.7,1071" fill="#cc6600"/>
<polygon points="795.7,1069.3 793.5,1072.6 789.5,1072.9 791.2,1076.5 789.5,1080.1 793.5,1080.4 795.7,1083.7 797.9,1080.4 801.9,1080.1 800.2,1076.5 801.9,1072.9 797.9,1072.6" fill="#cc6600"/>
<polygon points="839,1066.6 836.8,1069.9 832.8,1070.2 834.5,1073.8 832.8,1077.4 836.8,1077.7 839,1081 841.2,1077.7 845.2,1077.4 843.5,1073.8 845.2,1070.2 841.2,1069.9" fill="#cc6600"/>
<polygon points="881.8,1047 879.6,1050.3 875.6,1050.6 877.3,1054.2 875.6,1057.8 879.6,1058.1 881.8,1061.4 884,1058.1 888,1057.8 886.3,1054.2 888,1050.6 884,1050.3" fill="#cc6600"/>
<polygon points="926.2,982.9 924,986.2 920,986.5 921.7,990.1 920,993.7 924,994 926.2,997.3 928.4,994 932.4,993.7 930.7,990.1 932.4,986.5 928.4,986.2" fill="#cc6600"/>
<polygon points="969.6,895.8 967.4,899.1 963.4,899.4 965.1,903 963.4,906.6 967.4,906.9 969.6,910.2 971.8,906.9 975.8,906.6 974.1,903 975.8,899.4 971.8,899.1" fill="#cc6600"/>
<path d="M143.9 1296.4 L147 1295.4 L150.1 1292.5 L153.2 1287.9 L156.3 1281.8 L159.4 1274.4 L162.5 1265.9 L165.7 1256.6 L168.8 1246.6 L171.9 1236.1 L175 1225.4 L178.1 1214.6 L181.2 1204 L184.3 1193.7 L187.4 1184 L190.4 1175.3 L193.5 1167.3 L196.5 1160 L199.5 1153.5 L202.5 1147.7 L205.6 1142.5 L208.6 1138 L211.6 1134.2 L214.7 1131 L217.7 1128.5 L220.7 1126.5 L223.7 1125.1 L226.8 1124.3 L229.8 1124 L232.9 1124.1 L236 1124.6 L239.1 1125.2 L242.1 1126 L245.2 1126.9 L248.3 1128 L251.4 1129.1 L254.5 1130.2 L257.6 1131.2 L260.7 1132.2 L263.7 1133.1 L266.8 1133.8 L269.9 1134.3 L273 1134.6 L276.1 1134.7 L279.1 1134.8 L282.2 1135 L285.3 1135.1 L288.3 1135.2 L291.4 1135.2 L294.4 1135.3 L297.5 1135.4 L300.6 1135.5 L303.6 1135.5 L306.7 1135.5 L309.8 1135.6 L312.8 1135.6 L315.9 1135.6 L319 1135.6 L322 1135.5 L325.1 1135.5 L328.1 1135.3 L331.2 1135.2 L334.2 1135.1 L337.3 1134.9 L340.4 1134.8 L343.4 1134.6 L346.5 1134.4 L349.5 1134.3 L352.6 1134.1 L355.6 1133.9 L358.7 1133.8 L361.7 1133.7 L364.7 1133.5 L367.7 1133.4 L370.7 1133.3 L373.7 1133.1 L376.7 1133 L379.7 1132.8 L382.7 1132.7 L385.7 1132.6 L388.7 1132.4 L391.7 1132.3 L394.7 1132.2 L397.7 1132.1 L400.7 1132 L403.8 1131.9 L406.8 1131.8 L409.9 1131.8 L413 1131.7 L416 1131.6 L419.1 1131.6 L422.2 1131.5 L425.2 1131.4 L428.3 1131.4 L431.4 1131.3 L434.4 1131.3 L437.5 1131.2 L440.6 1131.2 L443.6 1131.1 L446.7 1131.1 L449.8 1131.1 L452.8 1131 L455.9 1131 L458.9 1130.9 L462 1130.9 L465 1130.8 L468.1 1130.8 L471.2 1130.8 L474.2 1130.7 L477.3 1130.7 L480.3 1130.7 L483.4 1130.6 L486.4 1130.6 L489.5 1130.6 L492.5 1130.6 L495.5 1130.6 L498.6 1130.5 L501.6 1130.5 L504.6 1130.5 L507.6 1130.5 L510.6 1130.5 L513.7 1130.5 L516.7 1130.4 L519.7 1130.4 L522.7 1130.4 L525.7 1130.4 L528.8 1130.4 L531.8 1130.4 L534.8 1130.4 L537.8 1130.4 L540.9 1130.4 L543.9 1130.4 L547 1130.4 L550 1130.4 L553.1 1130.4 L556.1 1130.4 L559.2 1130.4 L562.2 1130.4 L565.3 1130.4 L568.4 1130.4 L571.4 1130.4 L574.5 1130.4 L577.5 1130.4 L580.6 1130.4 L583.6 1130.4 L586.7 1130.4 L589.8 1130.4 L592.8 1130.4 L595.9 1130.4 L599 1130.5 L602 1130.5 L605.1 1130.5 L608.1 1130.5 L611.2 1130.5 L614.3 1130.6 L617.3 1130.6 L620.4 1130.6 L623.6 1130.6 L626.8 1130.6 L630 1130.7 L633.1 1130.7 L636.3 1130.7 L639.5 1130.8 L642.7 1130.8 L645.9 1130.8 L649.1 1130.9 L652.3 1130.9 L655.4 1131 L658.6 1131 L661.8 1131 L665 1131.1 L668.1 1131.2 L671.2 1131.2 L674.2 1131.3 L677.3 1131.4 L680.4 1131.5 L683.5 1131.6 L686.5 1131.7 L689.6 1131.8 L692.7 1131.9 L695.8 1132 L698.9 1132.1 L701.9 1132.3 L705 1132.4 L708.1 1132.5 L711.2 1132.6 L714.3 1132.8 L717.4 1132.9 L720.5 1133 L723.6 1133.2 L726.7 1133.3 L729.8 1133.5 L732.9 1133.6 L736 1133.8 L739.1 1134 L742.2 1134.1 L745.3 1134.3 L748.4 1134.4 L751.5 1134.6 L754.7 1134.8 L757.8 1135 L761 1135.2 L764.1 1135.4 L767.3 1135.6 L770.4 1135.9 L773.6 1136.1 L776.8 1136.3 L779.9 1136.5 L783.1 1136.7 L786.2 1136.8 L789.4 1136.9 L792.5 1137 L795.7 1137 L798.8 1137 L801.9 1137 L805 1136.9 L808.1 1136.9 L811.2 1136.8 L814.3 1136.7 L817.4 1136.6 L820.4 1136.5 L823.5 1136.4 L826.6 1136.3 L829.7 1136.1 L832.8 1136 L835.9 1135.8 L839 1135.6 L842.1 1135.3 L845.1 1134.7 L848.2 1134 L851.2 1133 L854.3 1131.9 L857.3 1130.5 L860.4 1129 L863.5 1127.4 L866.5 1125.6 L869.6 1123.7 L872.6 1121.7 L875.7 1119.6 L878.7 1117.5 L881.8 1115.3 L885 1112.7 L888.1 1109.7 L891.3 1106.1 L894.5 1102.1 L897.7 1097.8 L900.8 1093 L904 1087.9 L907.2 1082.4 L910.3 1076.7 L913.5 1070.7 L916.7 1064.5 L919.9 1058.1 L923 1051.5 L926.2 1044.8 L929.3 1037.9 L932.4 1030.3 L935.5 1022.2 L938.6 1013.6 L941.7 1004.4 L944.8 994.8 L947.9 984.7 L951 974.2 L954.1 963.2 L957.2 951.9 L960.3 940.3 L963.4 928.3 L966.5 916 L969.6 903.5" stroke="#000000" stroke-width="3.4" fill="none" stroke-linejoin="round"/>
<path d="M136.9 1296.4H150.9M143.9 1289.4V1303.4" stroke="#000000" stroke-width="3.4" fill="none"/>
<path d="M180.4 1184H194.4M187.4 1177V1191" stroke="#000000" stroke-width="3.4" fill="none"/>
<path d="M222.8 1124H236.8M229.8 1117V1131" stroke="#000000" stroke-width="3.4" fill="none"/>
<path d="M266 1134.6H280M273 1127.6V1141.6" stroke="#000000" stroke-width="3.4" fill="none"/>
<path d="M308.9 1135.6H322.9M315.9 1128.6V1142.6" stroke="#000000" stroke-width="3.4" fill="none"/>
<path d="M351.7 1133.8H365.7M358.7 1126.8V1140.8" stroke="#000000" stroke-width="3.4" fill="none"/>
<path d="M396.8 1131.9H410.8M403.8 1124.9V1138.9" stroke="#000000" stroke-width="3.4" fill="none"/>
<path d="M439.7 1131.1H453.7M446.7 1124.1V1138.1" stroke="#000000" stroke-width="3.4" fill="none"/>
<path d="M482.5 1130.6H496.5M489.5 1123.6V1137.6" stroke="#000000" stroke-width="3.4" fill="none"/>
<path d="M527.8 1130.4H541.8M534.8 1123.4V1137.4" stroke="#000000" stroke-width="3.4" fill="none"/>
<path d="M570.5 1130.4H584.5M577.5 1123.4V1137.4" stroke="#000000" stroke-width="3.4" fill="none"/>
<path d="M613.4 1130.6H627.4M620.4 1123.6V1137.6" stroke="#000000" stroke-width="3.4" fill="none"/>
<path d="M658 1131.1H672M665 1124.1V1138.1" stroke="#000000" stroke-width="3.4" fill="none"/>
<path d="M701.1 1132.5H715.1M708.1 1125.5V1139.5" stroke="#000000" stroke-width="3.4" fill="none"/>
<path d="M744.5 1134.6H758.5M751.5 1127.6V1141.6" stroke="#000000" stroke-width="3.4" fill="none"/>
<path d="M788.7 1137H802.7M795.7 1130V1144" stroke="#000000" stroke-width="3.4" fill="none"/>
<path d="M832 1135.6H846M839 1128.6V1142.6" stroke="#000000" stroke-width="3.4" fill="none"/>
<path d="M874.8 1115.3H888.8M881.8 1108.3V1122.3" stroke="#000000" stroke-width="3.4" fill="none"/>
<path d="M919.2 1044.8H933.2M926.2 1037.8V1051.8" stroke="#000000" stroke-width="3.4" fill="none"/>
<path d="M962.6 903.5H976.6M969.6 896.5V910.5" stroke="#000000" stroke-width="3.4" fill="none"/>
<path d="M143.9 1365 L147 1364 L150.1 1361.2 L153.2 1356.7 L156.3 1350.8 L159.4 1343.6 L162.5 1335.4 L165.7 1326.3 L168.8 1316.6 L171.9 1306.4 L175 1296 L178.1 1285.6 L181.2 1275.3 L184.3 1265.4 L187.4 1256 L190.4 1247.6 L193.5 1239.9 L196.5 1232.9 L199.5 1226.6 L202.5 1221 L205.6 1216.1 L208.6 1211.8 L211.6 1208.2 L214.7 1205.2 L217.7 1202.7 L220.7 1200.8 L223.7 1199.5 L226.8 1198.8 L229.8 1198.5 L232.9 1198.6 L236 1198.9 L239.1 1199.3 L242.1 1199.9 L245.2 1200.6 L248.3 1201.3 L251.4 1202 L254.5 1202.8 L257.6 1203.5 L260.7 1204.2 L263.7 1204.8 L266.8 1205.2 L269.9 1205.5 L273 1205.6 L276.1 1205.6 L279.1 1205.5 L282.2 1205.4 L285.3 1205.3 L288.3 1205.2 L291.4 1205.1 L294.4 1204.9 L297.5 1204.7 L300.6 1204.5 L303.6 1204.4 L306.7 1204.2 L309.8 1204.1 L312.8 1203.9 L315.9 1203.8 L319 1203.7 L322 1203.6 L325.1 1203.5 L328.1 1203.3 L331.2 1203.2 L334.2 1203.1 L337.3 1203 L340.4 1202.9 L343.4 1202.8 L346.5 1202.7 L349.5 1202.7 L352.6 1202.6 L355.6 1202.5 L358.7 1202.5 L361.7 1202.5 L364.7 1202.4 L367.7 1202.4 L370.7 1202.4 L373.7 1202.3 L376.7 1202.3 L379.7 1202.3 L382.7 1202.3 L385.7 1202.3 L388.7 1202.2 L391.7 1202.2 L394.7 1202.2 L397.7 1202.2 L400.7 1202.2 L403.8 1202.2 L406.8 1202.2 L409.9 1202.2 L413 1202.2 L416 1202.2 L419.1 1202.2 L422.2 1202.2 L425.2 1202.2 L428.3 1202.2 L431.4 1202.2 L434.4 1202.2 L437.5 1202.2 L440.6 1202.2 L443.6 1202.2 L446.7 1202.2 L449.8 1202.2 L452.8 1202.2 L455.9 1202.2 L458.9 1202.2 L462 1202.1 L465 1202.1 L468.1 1202.1 L471.2 1202.1 L474.2 1202 L477.3 1202 L480.3 1202 L483.4 1201.9 L486.4 1201.9 L489.5 1201.9 L492.5 1201.9 L495.5 1201.9 L498.6 1201.9 L501.6 1201.8 L504.6 1201.8 L507.6 1201.8 L510.6 1201.8 L513.7 1201.8 L516.7 1201.8 L519.7 1201.8 L522.7 1201.8 L525.7 1201.8 L528.8 1201.7 L531.8 1201.7 L534.8 1201.7 L537.8 1201.7 L540.9 1201.6 L543.9 1201.6 L547 1201.6 L550 1201.5 L553.1 1201.5 L556.1 1201.4 L559.2 1201.4 L562.2 1201.3 L565.3 1201.3 L568.4 1201.2 L571.4 1201.2 L574.5 1201.1 L577.5 1201.1 L580.6 1201.1 L583.6 1201 L586.7 1201 L589.8 1200.9 L592.8 1200.9 L595.9 1200.8 L599 1200.8 L602 1200.7 L605.1 1200.7 L608.1 1200.7 L611.2 1200.6 L614.3 1200.6 L617.3 1200.6 L620.4 1200.6 L623.6 1200.6 L626.8 1200.6 L630 1200.6 L633.1 1200.6 L636.3 1200.6 L639.5 1200.6 L642.7 1200.6 L645.9 1200.6 L649.1 1200.6 L652.3 1200.6 L655.4 1200.6 L658.6 1200.6 L661.8 1200.6 L665 1200.6 L668.1 1200.6 L671.2 1200.6 L674.2 1200.7 L677.3 1200.7 L680.4 1200.8 L683.5 1200.9 L686.5 1201 L689.6 1201 L692.7 1201.1 L695.8 1201.2 L698.9 1201.4 L701.9 1201.5 L705 1201.6 L708.1 1201.7 L711.2 1201.8 L714.3 1202 L717.4 1202.1 L720.5 1202.3 L723.6 1202.5 L726.7 1202.7 L729.8 1202.9 L732.9 1203.2 L736 1203.4 L739.1 1203.6 L742.2 1203.9 L745.3 1204.1 L748.4 1204.4 L751.5 1204.6 L754.7 1204.9 L757.8 1205.1 L761 1205.5 L764.1 1205.8 L767.3 1206.2 L770.4 1206.5 L773.6 1206.9 L776.8 1207.2 L779.9 1207.5 L783.1 1207.8 L786.2 1208 L789.4 1208.2 L792.5 1208.3 L795.7 1208.3 L798.8 1208.3 L801.9 1208.3 L805 1208.2 L808.1 1208.1 L811.2 1208 L814.3 1207.9 L817.4 1207.8 L820.4 1207.6 L823.5 1207.5 L826.6 1207.3 L829.7 1207.1 L832.8 1206.9 L835.9 1206.6 L839 1206.4 L842.1 1206 L845.1 1205.3 L848.2 1204.3 L851.2 1203.1 L854.3 1201.6 L857.3 1199.9 L860.4 1198 L863.5 1196 L866.5 1193.8 L869.6 1191.4 L872.6 1188.9 L875.7 1186.4 L878.7 1183.7 L881.8 1181 L885 1177.9 L888.1 1174.3 L891.3 1170.3 L894.5 1165.7 L897.7 1160.8 L900.8 1155.4 L904 1149.6 L907.2 1143.5 L910.3 1136.9 L913.5 1130 L916.7 1122.8 L919.9 1115.3 L923 1107.5 L926.2 1099.4 L929.3 1090.9 L932.4 1081.4 L935.5 1070.9 L938.6 1059.6 L941.7 1047.5 L944.8 1034.6 L947.9 1021 L951 1006.7 L954.1 991.8 L957.2 976.3 L960.3 960.3 L963.4 943.8 L966.5 926.9 L969.6 909.6 L970.7 904.5" stroke="#ff00ff" stroke-width="3.4" fill="none" stroke-linejoin="round"/>
<path d="M136.9 1365H150.9M143.9 1358V1372M138.9 1360L148.9 1370M138.9 1370L148.9 1360" stroke="#ff00ff" stroke-width="3.4" fill="none"/>
<path d="M180.4 1256H194.4M187.4 1249V1263M182.4 1251L192.4 1261M182.4 1261L192.4 1251" stroke="#ff00ff" stroke-width="3.4" fill="none"/>
<path d="M222.8 1198.5H236.8M229.8 1191.5V1205.5M224.8 1193.5L234.8 1203.5M224.8 1203.5L234.8 1193.5" stroke="#ff00ff" stroke-width="3.4" fill="none"/>
<path d="M266 1205.6H280M273 1198.6V1212.6M268 1200.6L278 1210.6M268 1210.6L278 1200.6" stroke="#ff00ff" stroke-width="3.4" fill="none"/>
<path d="M308.9 1203.8H322.9M315.9 1196.8V1210.8M310.9 1198.8L320.9 1208.8M310.9 1208.8L320.9 1198.8" stroke="#ff00ff" stroke-width="3.4" fill="none"/>
<path d="M351.7 1202.5H365.7M358.7 1195.5V1209.5M353.7 1197.5L363.7 1207.5M353.7 1207.5L363.7 1197.5" stroke="#ff00ff" stroke-width="3.4" fill="none"/>
<path d="M396.8 1202.2H410.8M403.8 1195.2V1209.2M398.8 1197.2L408.8 1207.2M398.8 1207.2L408.8 1197.2" stroke="#ff00ff" stroke-width="3.4" fill="none"/>
<path d="M439.7 1202.2H453.7M446.7 1195.2V1209.2M441.7 1197.2L451.7 1207.2M441.7 1207.2L451.7 1197.2" stroke="#ff00ff" stroke-width="3.4" fill="none"/>
<path d="M482.5 1201.9H496.5M489.5 1194.9V1208.9M484.5 1196.9L494.5 1206.9M484.5 1206.9L494.5 1196.9" stroke="#ff00ff" stroke-width="3.4" fill="none"/>
<path d="M527.8 1201.7H541.8M534.8 1194.7V1208.7M529.8 1196.7L539.8 1206.7M529.8 1206.7L539.8 1196.7" stroke="#ff00ff" stroke-width="3.4" fill="none"/>
<path d="M570.5 1201.1H584.5M577.5 1194.1V1208.1M572.5 1196.1L582.5 1206.1M572.5 1206.1L582.5 1196.1" stroke="#ff00ff" stroke-width="3.4" fill="none"/>
<path d="M613.4 1200.6H627.4M620.4 1193.6V1207.6M615.4 1195.6L625.4 1205.6M615.4 1205.6L625.4 1195.6" stroke="#ff00ff" stroke-width="3.4" fill="none"/>
<path d="M658 1200.6H672M665 1193.6V1207.6M660 1195.6L670 1205.6M660 1205.6L670 1195.6" stroke="#ff00ff" stroke-width="3.4" fill="none"/>
<path d="M701.1 1201.7H715.1M708.1 1194.7V1208.7M703.1 1196.7L713.1 1206.7M703.1 1206.7L713.1 1196.7" stroke="#ff00ff" stroke-width="3.4" fill="none"/>
<path d="M744.5 1204.6H758.5M751.5 1197.6V1211.6M746.5 1199.6L756.5 1209.6M746.5 1209.6L756.5 1199.6" stroke="#ff00ff" stroke-width="3.4" fill="none"/>
<path d="M788.7 1208.3H802.7M795.7 1201.3V1215.3M790.7 1203.3L800.7 1213.3M790.7 1213.3L800.7 1203.3" stroke="#ff00ff" stroke-width="3.4" fill="none"/>
<path d="M832 1206.4H846M839 1199.4V1213.4M834 1201.4L844 1211.4M834 1211.4L844 1201.4" stroke="#ff00ff" stroke-width="3.4" fill="none"/>
<path d="M874.8 1181H888.8M881.8 1174V1188M876.8 1176L886.8 1186M876.8 1186L886.8 1176" stroke="#ff00ff" stroke-width="3.4" fill="none"/>
<path d="M919.2 1099.4H933.2M926.2 1092.4V1106.4M921.2 1094.4L931.2 1104.4M921.2 1104.4L931.2 1094.4" stroke="#ff00ff" stroke-width="3.4" fill="none"/>
<path d="M962.6 909.6H976.6M969.6 902.6V916.6M964.6 904.6L974.6 914.6M964.6 914.6L974.6 904.6" stroke="#ff00ff" stroke-width="3.4" fill="none"/>
<path d="M143.9 1343.8 L147 1343.5 L150.1 1342.5 L153.2 1340.9 L156.3 1338.8 L159.4 1336.4 L162.5 1333.5 L165.7 1330.4 L168.8 1327.1 L171.9 1323.6 L175 1320.1 L178.1 1316.5 L181.2 1313.1 L184.3 1309.8 L187.4 1306.7 L190.4 1304 L193.5 1301.5 L196.5 1299.4 L199.5 1297.5 L202.5 1295.8 L205.6 1294.4 L208.6 1293.1 L211.6 1292.1 L214.7 1291.3 L217.7 1290.7 L220.7 1290.2 L223.7 1289.8 L226.8 1289.7 L229.8 1289.6 L232.9 1289.7 L236 1289.9 L239.1 1290.2 L242.1 1290.7 L245.2 1291.1 L248.3 1291.7 L251.4 1292.2 L254.5 1292.8 L257.6 1293.4 L260.7 1293.8 L263.7 1294.3 L266.8 1294.6 L269.9 1294.8 L273 1294.9 L276.1 1294.9 L279.1 1294.8 L282.2 1294.7 L285.3 1294.6 L288.3 1294.5 L291.4 1294.4 L294.4 1294.2 L297.5 1294 L300.6 1293.9 L303.6 1293.7 L306.7 1293.5 L309.8 1293.4 L312.8 1293.2 L315.9 1293.1 L319 1293 L322 1292.8 L325.1 1292.7 L328.1 1292.5 L331.2 1292.4 L334.2 1292.2 L337.3 1292.1 L340.4 1292 L343.4 1291.8 L346.5 1291.7 L349.5 1291.6 L352.6 1291.6 L355.6 1291.5 L358.7 1291.5 L361.7 1291.5 L364.7 1291.5 L367.7 1291.5 L370.7 1291.5 L373.7 1291.5 L376.7 1291.5 L379.7 1291.5 L382.7 1291.5 L385.7 1291.5 L388.7 1291.5 L391.7 1291.5 L394.7 1291.5 L397.7 1291.5 L400.7 1291.5 L403.8 1291.5 L406.8 1291.5 L409.9 1291.5 L413 1291.5 L416 1291.6 L419.1 1291.6 L422.2 1291.6 L425.2 1291.7 L428.3 1291.7 L431.4 1291.8 L434.4 1291.8 L437.5 1291.9 L440.6 1291.9 L443.6 1292 L446.7 1292 L449.8 1292 L452.8 1292.1 L455.9 1292.1 L458.9 1292.2 L462 1292.2 L465 1292.3 L468.1 1292.3 L471.2 1292.4 L474.2 1292.5 L477.3 1292.5 L480.3 1292.6 L483.4 1292.7 L486.4 1292.7 L489.5 1292.8 L492.5 1292.9 L495.5 1293 L498.6 1293.1 L501.6 1293.2 L504.6 1293.3 L507.6 1293.4 L510.6 1293.5 L513.7 1293.6 L516.7 1293.7 L519.7 1293.9 L522.7 1294 L525.7 1294.1 L528.8 1294.2 L531.8 1294.3 L534.8 1294.4 L537.8 1294.5 L540.9 1294.6 L543.9 1294.7 L547 1294.7 L550 1294.8 L553.1 1294.9 L556.1 1295 L559.2 1295 L562.2 1295.1 L565.3 1295.2 L568.4 1295.2 L571.4 1295.3 L574.5 1295.4 L577.5 1295.5 L580.6 1295.6 L583.6 1295.7 L586.7 1295.8 L589.8 1295.9 L592.8 1296 L595.9 1296.1 L599 1296.2 L602 1296.3 L605.1 1296.4 L608.1 1296.5 L611.2 1296.6 L614.3 1296.7 L617.3 1296.9 L620.4 1297 L623.6 1297.2 L626.8 1297.3 L630 1297.5 L633.1 1297.7 L636.3 1298 L639.5 1298.2 L642.7 1298.5 L645.9 1298.7 L649.1 1299 L652.3 1299.2 L655.4 1299.5 L658.6 1299.7 L661.8 1300 L665 1300.2 L668.1 1300.4 L671.2 1300.6 L674.2 1300.8 L677.3 1301.1 L680.4 1301.3 L683.5 1301.5 L686.5 1301.7 L689.6 1301.9 L692.7 1302.1 L695.8 1302.4 L698.9 1302.6 L701.9 1302.9 L705 1303.1 L708.1 1303.4 L711.2 1303.7 L714.3 1304.1 L717.4 1304.4 L720.5 1304.8 L723.6 1305.2 L726.7 1305.7 L729.8 1306.1 L732.9 1306.5 L736 1307 L739.1 1307.4 L742.2 1307.8 L745.3 1308.2 L748.4 1308.6 L751.5 1308.9 L754.7 1309.2 L757.8 1309.6 L761 1310 L764.1 1310.4 L767.3 1310.8 L770.4 1311.1 L773.6 1311.5 L776.8 1311.8 L779.9 1312.1 L783.1 1312.4 L786.2 1312.6 L789.4 1312.8 L792.5 1312.9 L795.7 1312.9 L798.8 1312.9 L801.9 1312.7 L805 1312.5 L808.1 1312.3 L811.2 1311.9 L814.3 1311.5 L817.4 1311.1 L820.4 1310.5 L823.5 1309.9 L826.6 1309.3 L829.7 1308.6 L832.8 1307.9 L835.9 1307.1 L839 1306.3 L842.1 1305.2 L845.1 1303.6 L848.2 1301.6 L851.2 1299.1 L854.3 1296.2 L857.3 1293 L860.4 1289.4 L863.5 1285.6 L866.5 1281.6 L869.6 1277.3 L872.6 1273 L875.7 1268.5 L878.7 1263.9 L881.8 1259.3 L885 1254.3 L888.1 1249 L891.3 1243.2 L894.5 1237 L897.7 1230.5 L900.8 1223.5 L904 1216.1 L907.2 1208.2 L910.3 1200 L913.5 1191.4 L916.7 1182.3 L919.9 1172.7 L923 1162.8 L926.2 1152.4 L929.3 1141.4 L932.4 1129.3 L935.5 1116.1 L938.6 1101.9 L941.7 1086.7 L944.8 1070.6 L947.9 1053.7 L951 1035.9 L954.1 1017.4 L957.2 998.2 L960.3 978.4 L963.4 958 L966.5 937.1 L969.6 915.7 L970.7 905" stroke="#00ffff" stroke-width="3.4" fill="none" stroke-linejoin="round"/>
<path d="M138.9 1338.8L148.9 1348.8M138.9 1348.8L148.9 1338.8" stroke="#00ffff" stroke-width="3.4" fill="none"/>
<path d="M182.4 1301.7L192.4 1311.7M182.4 1311.7L192.4 1301.7" stroke="#00ffff" stroke-width="3.4" fill="none"/>
<path d="M224.8 1284.6L234.8 1294.6M224.8 1294.6L234.8 1284.6" stroke="#00ffff" stroke-width="3.4" fill="none"/>
<path d="M268 1289.9L278 1299.9M268 1299.9L278 1289.9" stroke="#00ffff" stroke-width="3.4" fill="none"/>
<path d="M310.9 1288.1L320.9 1298.1M310.9 1298.1L320.9 1288.1" stroke="#00ffff" stroke-width="3.4" fill="none"/>
<path d="M353.7 1286.5L363.7 1296.5M353.7 1296.5L363.7 1286.5" stroke="#00ffff" stroke-width="3.4" fill="none"/>
<path d="M398.8 1286.5L408.8 1296.5M398.8 1296.5L408.8 1286.5" stroke="#00ffff" stroke-width="3.4" fill="none"/>
<path d="M441.7 1287L451.7 1297M441.7 1297L451.7 1287" stroke="#00ffff" stroke-width="3.4" fill="none"/>
<path d="M484.5 1287.8L494.5 1297.8M484.5 1297.8L494.5 1287.8" stroke="#00ffff" stroke-width="3.4" fill="none"/>
<path d="M529.8 1289.4L539.8 1299.4M529.8 1299.4L539.8 1289.4" stroke="#00ffff" stroke-width="3.4" fill="none"/>
<path d="M572.5 1290.5L582.5 1300.5M572.5 1300.5L582.5 1290.5" stroke="#00ffff" stroke-width="3.4" fill="none"/>
<path d="M615.4 1292L625.4 1302M615.4 1302L625.4 1292" stroke="#00ffff" stroke-width="3.4" fill="none"/>
<path d="M660 1295.2L670 1305.2M660 1305.2L670 1295.2" stroke="#00ffff" stroke-width="3.4" fill="none"/>
<path d="M703.1 1298.4L713.1 1308.4M703.1 1308.4L713.1 1298.4" stroke="#00ffff" stroke-width="3.4" fill="none"/>
<path d="M746.5 1303.9L756.5 1313.9M746.5 1313.9L756.5 1303.9" stroke="#00ffff" stroke-width="3.4" fill="none"/>
<path d="M790.7 1307.9L800.7 1317.9M790.7 1317.9L800.7 1307.9" stroke="#00ffff" stroke-width="3.4" fill="none"/>
<path d="M834 1301.3L844 1311.3M834 1311.3L844 1301.3" stroke="#00ffff" stroke-width="3.4" fill="none"/>
<path d="M876.8 1254.3L886.8 1264.3M876.8 1264.3L886.8 1254.3" stroke="#00ffff" stroke-width="3.4" fill="none"/>
<path d="M921.2 1147.4L931.2 1157.4M921.2 1157.4L931.2 1147.4" stroke="#00ffff" stroke-width="3.4" fill="none"/>
<path d="M964.6 910.7L974.6 920.7M964.6 920.7L974.6 910.7" stroke="#00ffff" stroke-width="3.4" fill="none"/>
<path d="M143.9 1352.8 L147 1352.8 L150.1 1352.8 L153.2 1352.8 L156.3 1352.7 L159.4 1352.7 L162.5 1352.7 L165.7 1352.7 L168.8 1352.6 L171.9 1352.6 L175 1352.6 L178.1 1352.5 L181.2 1352.5 L184.3 1352.5 L187.4 1352.5 L190.4 1352.5 L193.5 1352.7 L196.5 1352.9 L199.5 1353.2 L202.5 1353.5 L205.6 1353.9 L208.6 1354.3 L211.6 1354.8 L214.7 1355.3 L217.7 1355.9 L220.7 1356.4 L223.7 1356.9 L226.8 1357.5 L229.8 1358 L232.9 1358.6 L236 1359.4 L239.1 1360.2 L242.1 1361.2 L245.2 1362.2 L248.3 1363.2 L251.4 1364.3 L254.5 1365.3 L257.6 1366.2 L260.7 1367 L263.7 1367.7 L266.8 1368.2 L269.9 1368.6 L273 1368.7 L276.1 1368.7 L279.1 1368.7 L282.2 1368.7 L285.3 1368.7 L288.3 1368.7 L291.4 1368.7 L294.4 1368.7 L297.5 1368.7 L300.6 1368.7 L303.6 1368.7 L306.7 1368.7 L309.8 1368.7 L312.8 1368.7 L315.9 1368.7 L319 1368.7 L322 1368.7 L325.1 1368.7 L328.1 1368.7 L331.2 1368.6 L334.2 1368.6 L337.3 1368.6 L340.4 1368.6 L343.4 1368.6 L346.5 1368.5 L349.5 1368.5 L352.6 1368.5 L355.6 1368.5 L358.7 1368.5 L361.7 1368.5 L364.7 1368.5 L367.7 1368.5 L370.7 1368.6 L373.7 1368.6 L376.7 1368.6 L379.7 1368.7 L382.7 1368.7 L385.7 1368.8 L388.7 1368.8 L391.7 1368.8 L394.7 1368.9 L397.7 1368.9 L400.7 1368.9 L403.8 1368.9 L406.8 1368.9 L409.9 1368.9 L413 1368.9 L416 1368.9 L419.1 1368.9 L422.2 1368.9 L425.2 1368.9 L428.3 1368.9 L431.4 1368.9 L434.4 1368.9 L437.5 1368.9 L440.6 1368.9 L443.6 1368.9 L446.7 1368.9 L449.8 1368.9 L452.8 1368.9 L455.9 1368.9 L458.9 1368.8 L462 1368.8 L465 1368.8 L468.1 1368.8 L471.2 1368.7 L474.2 1368.7 L477.3 1368.7 L480.3 1368.6 L483.4 1368.6 L486.4 1368.6 L489.5 1368.6 L492.5 1368.6 L495.5 1368.6 L498.6 1368.7 L501.6 1368.7 L504.6 1368.8 L507.6 1368.8 L510.6 1368.9 L513.7 1368.9 L516.7 1369 L519.7 1369 L522.7 1369.1 L525.7 1369.1 L528.8 1369.2 L531.8 1369.2 L534.8 1369.2 L537.8 1369.2 L540.9 1369.2 L543.9 1369.2 L547 1369.1 L550 1369.1 L553.1 1369 L556.1 1369 L559.2 1368.9 L562.2 1368.9 L565.3 1368.8 L568.4 1368.8 L571.4 1368.7 L574.5 1368.7 L577.5 1368.6 L580.6 1368.5 L583.6 1368.5 L586.7 1368.4 L589.8 1368.4 L592.8 1368.3 L595.9 1368.2 L599 1368.2 L602 1368.1 L605.1 1368 L608.1 1368 L611.2 1367.9 L614.3 1367.9 L617.3 1367.8 L620.4 1367.8 L623.6 1367.8 L626.8 1367.8 L630 1367.7 L633.1 1367.7 L636.3 1367.7 L639.5 1367.7 L642.7 1367.7 L645.9 1367.6 L649.1 1367.6 L652.3 1367.6 L655.4 1367.6 L658.6 1367.6 L661.8 1367.6 L665 1367.6 L668.1 1367.6 L671.2 1367.6 L674.2 1367.6 L677.3 1367.6 L680.4 1367.6 L683.5 1367.6 L686.5 1367.6 L689.6 1367.6 L692.7 1367.6 L695.8 1367.6 L698.9 1367.6 L701.9 1367.6 L705 1367.6 L708.1 1367.6 L711.2 1367.6 L714.3 1367.6 L717.4 1367.6 L720.5 1367.6 L723.6 1367.6 L726.7 1367.6 L729.8 1367.6 L732.9 1367.6 L736 1367.6 L739.1 1367.6 L742.2 1367.6 L745.3 1367.6 L748.4 1367.6 L751.5 1367.6 L754.7 1367.6 L757.8 1367.7 L761 1367.7 L764.1 1367.8 L767.3 1367.9 L770.4 1368.1 L773.6 1368.2 L776.8 1368.4 L779.9 1368.6 L783.1 1368.8 L786.2 1369 L789.4 1369.2 L792.5 1369.5 L795.7 1369.7 L798.8 1370 L801.9 1370.3 L805 1370.7 L808.1 1371.1 L811.2 1371.6 L814.3 1372.1 L817.4 1372.7 L820.4 1373.2 L823.5 1373.8 L826.6 1374.4 L829.7 1375 L832.8 1375.6 L835.9 1376.2 L839 1376.8 L842.1 1377.4 L845.1 1378.1 L848.2 1378.9 L851.2 1379.7 L854.3 1380.6 L857.3 1381.4 L860.4 1382.3 L863.5 1383.1 L866.5 1383.8 L869.6 1384.5 L872.6 1385 L875.7 1385.4 L878.7 1385.7 L881.8 1385.8 L885 1384.9 L888.1 1382.1 L891.3 1377.6 L894.5 1371.4 L897.7 1363.7 L900.8 1354.5 L904 1344 L907.2 1332.2 L910.3 1319.2 L913.5 1305.1 L916.7 1290.1 L919.9 1274.2 L923 1257.4 L926.2 1240 L929.3 1222.3 L932.4 1204.1 L935.5 1185.2 L938.6 1165.6 L941.7 1145.3 L944.8 1124.3 L947.9 1102.5 L951 1079.9 L954.1 1056.5 L957.2 1032.3 L960.3 1007.1 L963.4 981.1 L966.5 954.1 L969.6 926.1 L970.7 906" stroke="#ffc800" stroke-width="3.4" fill="none" stroke-linejoin="round"/>
<polygon points="143.9,1363.3 153,1347.5 134.8,1347.5" fill="#ffc800"/>
<polygon points="187.4,1363 196.5,1347.2 178.3,1347.2" fill="#ffc800"/>
<polygon points="229.8,1368.5 238.9,1352.8 220.7,1352.8" fill="#ffc800"/>
<polygon points="273,1379.2 282.1,1363.5 263.9,1363.5" fill="#ffc800"/>
<polygon points="315.9,1379.2 325,1363.5 306.8,1363.5" fill="#ffc800"/>
<polygon points="358.7,1379 367.8,1363.2 349.6,1363.2" fill="#ffc800"/>
<polygon points="403.8,1379.4 412.8,1363.7 394.7,1363.7" fill="#ffc800"/>
<polygon points="446.7,1379.4 455.8,1363.7 437.6,1363.7" fill="#ffc800"/>
<polygon points="489.5,1379.1 498.6,1363.3 480.4,1363.3" fill="#ffc800"/>
<polygon points="534.8,1379.7 543.9,1364 525.7,1364" fill="#ffc800"/>
<polygon points="577.5,1379.1 586.6,1363.3 568.4,1363.3" fill="#ffc800"/>
<polygon points="620.4,1378.3 629.5,1362.5 611.3,1362.5" fill="#ffc800"/>
<polygon points="665,1378.1 674.1,1362.3 655.9,1362.3" fill="#ffc800"/>
<polygon points="708.1,1378.1 717.2,1362.3 699,1362.3" fill="#ffc800"/>
<polygon points="751.5,1378.1 760.6,1362.3 742.4,1362.3" fill="#ffc800"/>
<polygon points="795.7,1380.2 804.8,1364.5 786.6,1364.5" fill="#ffc800"/>
<polygon points="839,1387.3 848.1,1371.5 829.9,1371.5" fill="#ffc800"/>
<polygon points="881.8,1396.3 890.9,1380.5 872.7,1380.5" fill="#ffc800"/>
<polygon points="926.2,1250.5 935.3,1234.8 917.1,1234.8" fill="#ffc800"/>
<polygon points="969.6,936.6 978.7,920.9 960.5,920.9" fill="#ffc800"/>
</g>
<text x="130.3" y="912.3" font-size="34.2" text-anchor="end">0</text>
<text x="130.3" y="1040.1" font-size="34.2" text-anchor="end">-0.05</text>
<text x="130.3" y="1167.8" font-size="34.2" text-anchor="end">-0.1</text>
<text x="130.3" y="1295.6" font-size="34.2" text-anchor="end">-0.15</text>
<text x="130.3" y="1423.3" font-size="34.2" text-anchor="end">-0.2</text>
<text x="143.6" y="1457.1" font-size="34.2" text-anchor="middle">0</text>
<text x="350.6" y="1457.1" font-size="34.2" text-anchor="middle">0.25</text>
<text x="557.7" y="1457.1" font-size="34.2" text-anchor="middle">0.5</text>
<text x="764.8" y="1457.1" font-size="34.2" text-anchor="middle">0.75</text>
<text x="971.8" y="1457.1" font-size="34.2" text-anchor="middle">1</text>
<text x="495" y="1504.5" font-size="41" font-style="italic">r</text>
<text x="527.2" y="1504.5" font-size="42">(</text>
<text x="541.7" y="1504.5" font-size="40.3">mm</text>
<text x="604.9" y="1504.5" font-size="42">)</text>
<g transform="translate(36.8 1263.8) rotate(-90)"><text x="-0.1" y="0" font-size="38.5" font-style="italic">σ</text><text x="33.1" y="0" font-size="42">(</text><text x="47.5" y="0" font-size="40">n</text><text x="68.8" y="0" font-size="41.4">C</text><text x="99.7" y="4" font-size="44">/</text><text x="115.7" y="0" font-size="40.9">mm</text><text x="179" y="-13.7" font-size="27.5">2</text><text x="194.3" y="0" font-size="42">)</text></g>
<rect x="227.3" y="1543.3" width="610" height="121.7" fill="#fff" stroke="#262626" stroke-width="1.6"/>
<line x1="240.3" y1="1566.6" x2="315.6" y2="1566.6" stroke="#0000ff" stroke-width="3.4"/>

<text x="326.1" y="1574.3" font-size="31.6">1.49 kV</text>
<line x1="240.3" y1="1603.9" x2="315.6" y2="1603.9" stroke="#008000" stroke-width="3.4"/>
<polygon points="277.9,1593.4 287,1609.2 268.9,1609.2" fill="#008000"/>
<text x="326.1" y="1611.6" font-size="31.6">1.5 kV</text>
<line x1="240.3" y1="1641.1" x2="315.6" y2="1641.1" stroke="#ff0000" stroke-width="3.4"/>
<circle cx="277.9" cy="1641.1" r="8" fill="#ff0000"/>
<text x="326.1" y="1648.8" font-size="31.6">1.6 kV</text>
<line x1="453" y1="1567.2" x2="529" y2="1567.2" stroke="#8000ff" stroke-width="3.4"/>
<rect x="484" y="1560.2" width="14" height="14" rx="1.5" fill="#8000ff"/>
<text x="539.6" y="1574.9" font-size="31.6">1.7 kV</text>
<line x1="453" y1="1604.5" x2="529" y2="1604.5" stroke="#cc6600" stroke-width="3.4"/>
<polygon points="491,1597.3 488.8,1600.6 484.8,1600.9 486.5,1604.5 484.8,1608.1 488.8,1608.4 491,1611.7 493.2,1608.4 497.2,1608.1 495.5,1604.5 497.2,1600.9 493.2,1600.6" fill="#cc6600"/>
<text x="539.6" y="1612.2" font-size="31.6">1.8 kV</text>
<line x1="453" y1="1641.7" x2="529" y2="1641.7" stroke="#000000" stroke-width="3.4"/>
<path d="M484 1641.7H498M491 1634.7V1648.7" stroke="#000000" stroke-width="3.4" fill="none"/>
<text x="539.6" y="1649.4" font-size="31.6">1.9 kV</text>
<line x1="651.9" y1="1567.7" x2="727.8" y2="1567.7" stroke="#ff00ff" stroke-width="3.4"/>
<path d="M682.9 1567.7H696.9M689.9 1560.7V1574.7M684.9 1562.7L694.9 1572.7M684.9 1572.7L694.9 1562.7" stroke="#ff00ff" stroke-width="3.4" fill="none"/>
<text x="737.6" y="1575.4" font-size="31.6">2 kV</text>
<line x1="651.9" y1="1605" x2="727.8" y2="1605" stroke="#00ffff" stroke-width="3.4"/>
<path d="M684.9 1600L694.9 1610M684.9 1610L694.9 1600" stroke="#00ffff" stroke-width="3.4" fill="none"/>
<text x="737.6" y="1612.7" font-size="31.6">2.1 kV</text>
<line x1="651.9" y1="1642.2" x2="727.8" y2="1642.2" stroke="#ffc800" stroke-width="3.4"/>
<polygon points="689.9,1652.7 698.9,1636.9 680.8,1636.9" fill="#ffc800"/>
<text x="737.6" y="1649.9" font-size="31.6">2.2 kV</text>
<text style="stroke:none" x="521.5" y="834.5" font-size="34.5" text-anchor="middle">(a)</text>
<text style="stroke:none" x="522.5" y="1719.8" font-size="34.5" text-anchor="middle">(b)</text>
</svg>
</body></html>
